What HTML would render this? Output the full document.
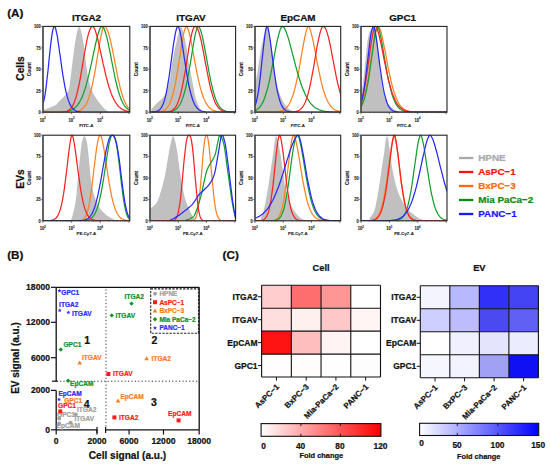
<!DOCTYPE html>
<html><head><meta charset="utf-8"><style>
html,body{margin:0;padding:0;background:#fff;}
svg{display:block;}
text{font-family:"Liberation Sans", sans-serif;}
</style></head><body>
<svg width="550" height="465" viewBox="0 0 550 465">
<rect width="550" height="465" fill="#fff"/>
<g id="panelA">
<defs>
<clipPath id="cp00"><rect x="43.00" y="25.40" width="86.80" height="86.80"/></clipPath>
<clipPath id="cp10"><rect x="150.00" y="25.40" width="85.60" height="86.80"/></clipPath>
<clipPath id="cp20"><rect x="255.00" y="25.40" width="85.70" height="86.80"/></clipPath>
<clipPath id="cp30"><rect x="361.00" y="25.40" width="86.00" height="86.80"/></clipPath>
<clipPath id="cp01"><rect x="43.00" y="134.20" width="86.80" height="86.60"/></clipPath>
<clipPath id="cp11"><rect x="150.00" y="134.20" width="85.60" height="86.60"/></clipPath>
<clipPath id="cp21"><rect x="255.00" y="134.20" width="85.70" height="86.60"/></clipPath>
<clipPath id="cp31"><rect x="361.00" y="134.20" width="86.00" height="86.60"/></clipPath>
</defs>
<g>
<g clip-path="url(#cp00)">
<path d="M43.0,112.2 L43.2,112.2 L43.2,110.0 L44.2,109.6 L45.5,109.2 L47.1,108.6 L48.9,107.9 L50.6,107.3 L52.3,106.6 L53.8,106.0 L55.0,105.4 L55.9,104.9 L56.5,104.4 L57.0,104.0 L57.3,103.5 L57.6,103.1 L58.0,102.6 L58.4,102.1 L58.9,101.5 L59.5,100.9 L60.3,100.2 L61.0,99.5 L61.8,98.7 L62.6,98.0 L63.3,97.2 L64.1,96.4 L64.7,95.7 L65.3,95.0 L65.9,94.4 L66.4,93.8 L66.9,93.2 L67.4,92.5 L67.8,91.8 L68.2,90.9 L68.6,89.9 L68.9,88.8 L69.2,87.5 L69.5,86.1 L69.7,84.7 L69.9,83.2 L70.1,81.6 L70.3,80.0 L70.5,78.3 L70.7,76.5 L71.0,74.7 L71.2,72.8 L71.4,70.8 L71.7,68.8 L71.9,66.8 L72.2,64.8 L72.4,62.8 L72.6,60.8 L72.9,58.8 L73.1,56.8 L73.4,54.8 L73.7,52.8 L73.9,50.9 L74.2,49.1 L74.4,47.3 L74.6,45.6 L74.9,44.0 L75.1,42.4 L75.4,40.9 L75.6,39.4 L75.9,38.0 L76.1,36.8 L76.3,35.6 L76.5,34.5 L76.7,33.6 L76.9,32.8 L77.1,32.0 L77.3,31.3 L77.4,30.7 L77.6,30.1 L77.8,29.5 L78.0,29.0 L78.2,28.5 L78.3,28.0 L78.5,27.6 L78.7,27.3 L78.9,27.0 L79.0,26.9 L79.2,26.8 L79.4,26.9 L79.5,27.0 L79.7,27.3 L79.9,27.6 L80.1,28.0 L80.2,28.5 L80.4,29.0 L80.6,29.5 L80.8,30.1 L81.0,30.7 L81.1,31.3 L81.3,32.0 L81.5,32.8 L81.7,33.6 L81.9,34.5 L82.1,35.6 L82.3,36.8 L82.6,38.0 L82.8,39.4 L83.1,40.9 L83.3,42.4 L83.6,44.0 L83.9,45.6 L84.1,47.3 L84.3,49.1 L84.6,51.0 L84.8,52.9 L85.1,54.9 L85.3,57.0 L85.5,59.0 L85.8,60.9 L86.0,62.8 L86.2,64.6 L86.4,66.4 L86.7,68.1 L86.9,69.8 L87.1,71.5 L87.3,73.1 L87.6,74.7 L87.9,76.3 L88.2,77.9 L88.5,79.4 L88.9,80.9 L89.2,82.4 L89.6,83.8 L90.0,85.3 L90.4,86.7 L90.9,88.0 L91.4,89.3 L92.0,90.6 L92.5,91.8 L93.1,93.0 L93.7,94.2 L94.4,95.4 L95.0,96.5 L95.7,97.6 L96.4,98.7 L97.1,99.8 L97.9,100.8 L98.7,101.9 L99.4,102.8 L100.2,103.8 L100.9,104.6 L101.5,105.4 L102.1,106.1 L102.5,106.7 L103.0,107.2 L103.4,107.7 L103.8,108.1 L104.2,108.5 L104.6,108.9 L105.0,109.3 L105.4,109.7 L105.9,110.0 L106.3,110.3 L106.7,110.6 L107.1,110.9 L107.5,111.1 L107.8,111.3 L108.0,111.5 L108.0,112.2 Z" fill="#c0c0c0"/>
<path d="M43.0,112.2 43.6,112.2 44.2,112.2 44.9,112.2 45.5,112.2 46.1,112.2 46.7,112.2 47.3,112.2 48.0,112.2 48.6,112.2 49.2,112.2 49.8,112.2 50.4,112.2 51.1,112.2 51.7,112.2 52.3,112.2 52.9,112.2 53.5,112.2 54.2,112.2 54.8,112.2 55.4,112.2 56.0,112.2 56.6,112.2 57.3,112.2 57.9,112.2 58.5,112.2 59.1,112.2 59.7,112.2 60.4,112.2 61.0,112.2 61.6,112.2 62.2,112.2 62.8,112.2 63.5,112.2 64.1,112.2 64.7,112.2 65.3,112.2 65.9,112.2 66.6,112.2 67.2,112.2 67.8,112.2 68.4,112.2 69.0,112.1 69.7,112.1 70.3,112.1 70.9,112.1 71.5,112.1 72.1,112.0 72.8,112.0 73.4,112.0 74.0,111.9 74.6,111.8 75.2,111.8 75.9,111.7 76.5,111.6 77.1,111.4 77.7,111.3 78.3,111.1 79.0,110.9 79.6,110.6 80.2,110.3 80.8,110.0 81.4,109.6 82.1,109.1 82.7,108.6 83.3,108.0 83.9,107.3 84.5,106.5 85.2,105.7 85.8,104.7 86.4,103.5 87.0,102.3 87.6,100.9 88.3,99.3 88.9,97.6 89.5,95.8 90.1,93.7 90.7,91.5 91.4,89.1 92.0,86.4 92.6,83.7 93.2,80.7 93.8,77.5 94.5,74.2 95.1,70.8 95.7,67.2 96.3,63.5 96.9,59.7 97.6,55.9 98.2,52.0 98.8,48.2 99.4,44.5 100.0,41.0 100.7,37.6 101.3,34.6 101.9,31.8 102.5,29.5 103.1,27.7 103.8,26.6 104.1,26.4 104.4,26.4 105.0,26.7 105.6,27.2 106.2,28.0 106.9,29.1 107.5,30.5 108.1,32.1 108.7,34.0 109.3,36.1 110.0,38.5 110.6,41.1 111.2,43.8 111.8,46.7 112.4,49.7 113.1,52.8 113.7,56.0 114.3,59.2 114.9,62.5 115.5,65.7 116.2,68.9 116.8,72.1 117.4,75.1 118.0,78.1 118.6,81.0 119.3,83.7 119.9,86.3 120.5,88.8 121.1,91.1 121.7,93.3 122.4,95.3 123.0,97.2 123.6,98.9 124.2,100.5 124.8,101.9 125.5,103.2 126.1,104.4 126.7,105.4 127.3,106.4 127.9,107.2 128.6,107.9 129.2,108.5 129.8,109.1" fill="none" stroke="#ff8020" stroke-width="1.25" stroke-linejoin="round"/>
<path d="M43.0,112.2 43.6,112.2 44.2,112.2 44.9,112.2 45.5,112.2 46.1,112.2 46.7,112.2 47.3,112.2 48.0,112.2 48.6,112.2 49.2,112.2 49.8,112.2 50.4,112.2 51.1,112.2 51.7,112.2 52.3,112.2 52.9,112.2 53.5,112.2 54.2,112.2 54.8,112.2 55.4,112.2 56.0,112.2 56.6,112.1 57.3,112.1 57.9,112.1 58.5,112.1 59.1,112.1 59.7,112.1 60.4,112.0 61.0,112.0 61.6,112.0 62.2,111.9 62.8,111.9 63.5,111.9 64.1,111.8 64.7,111.7 65.3,111.7 65.9,111.6 66.6,111.5 67.2,111.4 67.8,111.2 68.4,111.1 69.0,110.9 69.7,110.7 70.3,110.5 70.9,110.2 71.5,110.0 72.1,109.7 72.8,109.3 73.4,108.9 74.0,108.5 74.6,108.0 75.2,107.5 75.9,106.9 76.5,106.3 77.1,105.5 77.7,104.8 78.3,103.9 79.0,103.0 79.6,102.0 80.2,100.8 80.8,99.7 81.4,98.4 82.1,97.0 82.7,95.5 83.3,93.9 83.9,92.1 84.5,90.3 85.2,88.4 85.8,86.3 86.4,84.2 87.0,81.9 87.6,79.6 88.3,77.1 88.9,74.6 89.5,71.9 90.1,69.2 90.7,66.4 91.4,63.6 92.0,60.7 92.6,57.8 93.2,54.9 93.8,52.0 94.5,49.1 95.1,46.3 95.7,43.5 96.3,40.8 96.9,38.3 97.6,35.9 98.2,33.7 98.8,31.8 99.4,30.0 100.0,28.6 100.7,27.4 101.3,26.7 101.8,26.4 101.9,26.4 102.5,26.7 103.1,27.3 103.8,28.3 104.4,29.6 105.0,31.2 105.6,33.0 106.2,35.2 106.9,37.6 107.5,40.2 108.1,42.9 108.7,45.8 109.3,48.8 110.0,52.0 110.6,55.1 111.2,58.3 111.8,61.5 112.4,64.7 113.1,67.9 113.7,71.0 114.3,74.0 114.9,77.0 115.5,79.8 116.2,82.5 116.8,85.1 117.4,87.5 118.0,89.8 118.6,92.0 119.3,94.0 119.9,95.9 120.5,97.6 121.1,99.2 121.7,100.7 122.4,102.0 123.0,103.2 123.6,104.3 124.2,105.3 124.8,106.2 125.5,107.0 126.1,107.7 126.7,108.3 127.3,108.8 127.9,109.3 128.6,109.7 129.2,110.1 129.8,110.4" fill="none" stroke="#10a030" stroke-width="1.25" stroke-linejoin="round"/>
<path d="M43.0,112.2 43.6,112.2 44.2,112.2 44.9,112.2 45.5,112.2 46.1,112.2 46.7,112.2 47.3,112.2 48.0,112.2 48.6,112.2 49.2,112.2 49.8,112.2 50.4,112.2 51.1,112.2 51.7,112.2 52.3,112.2 52.9,112.2 53.5,112.2 54.2,112.2 54.8,112.2 55.4,112.2 56.0,112.2 56.6,112.2 57.3,112.2 57.9,112.2 58.5,112.2 59.1,112.2 59.7,112.2 60.4,112.1 61.0,112.1 61.6,112.1 62.2,112.1 62.8,112.0 63.5,112.0 64.1,111.9 64.7,111.8 65.3,111.7 65.9,111.5 66.6,111.3 67.2,111.1 67.8,110.8 68.4,110.5 69.0,110.1 69.7,109.6 70.3,109.0 70.9,108.4 71.5,107.6 72.1,106.7 72.8,105.6 73.4,104.4 74.0,103.0 74.6,101.4 75.2,99.7 75.9,97.7 76.5,95.6 77.1,93.2 77.7,90.7 78.3,87.9 79.0,85.0 79.6,81.9 80.2,78.6 80.8,75.1 81.4,71.6 82.1,67.9 82.7,64.2 83.3,60.5 83.9,56.8 84.5,53.2 85.2,49.6 85.8,46.2 86.4,43.0 87.0,40.0 87.6,37.2 88.3,34.7 88.9,32.5 89.5,30.7 90.1,29.1 90.7,28.0 91.4,27.1 92.0,26.6 92.6,26.4 92.8,26.4 93.2,26.6 93.8,27.4 94.5,28.6 95.1,30.1 95.7,31.9 96.3,33.9 96.9,36.1 97.6,38.5 98.2,41.1 98.8,43.8 99.4,46.5 100.0,49.3 100.7,52.2 101.3,55.1 101.9,58.0 102.5,60.8 103.1,63.7 103.8,66.4 104.4,69.2 105.0,71.8 105.6,74.4 106.2,76.9 106.9,79.3 107.5,81.7 108.1,83.9 108.7,86.0 109.3,88.0 110.0,89.9 110.6,91.7 111.2,93.4 111.8,94.9 112.4,96.4 113.1,97.8 113.7,99.1 114.3,100.3 114.9,101.4 115.5,102.4 116.2,103.4 116.8,104.2 117.4,105.0 118.0,105.8 118.6,106.4 119.3,107.0 119.9,107.6 120.5,108.1 121.1,108.5 121.7,108.9 122.4,109.3 123.0,109.6 123.6,109.9 124.2,110.2 124.8,110.4 125.5,110.7 126.1,110.8 126.7,111.0 127.3,111.2 127.9,111.3 128.6,111.4 129.2,111.5 129.8,111.6" fill="none" stroke="#ff2020" stroke-width="1.25" stroke-linejoin="round"/>
<path d="M43.0,104.2 43.6,101.8 44.2,99.0 44.9,95.6 45.5,91.6 46.1,87.1 46.7,82.0 47.3,76.5 48.0,70.7 48.6,64.6 49.2,58.5 49.8,52.4 50.4,46.6 51.1,41.3 51.7,36.6 52.3,32.7 52.9,29.7 53.5,27.6 54.2,26.6 54.6,26.4 54.8,26.5 55.4,27.8 56.0,30.0 56.6,32.8 57.3,36.2 57.9,40.1 58.5,44.2 59.1,48.5 59.7,53.0 60.4,57.5 61.0,61.9 61.6,66.3 62.2,70.6 62.8,74.6 63.5,78.5 64.1,82.1 64.7,85.5 65.3,88.6 65.9,91.4 66.6,94.0 67.2,96.4 67.8,98.5 68.4,100.4 69.0,102.1 69.7,103.6 70.3,104.9 70.9,106.0 71.5,107.0 72.1,107.8 72.8,108.5 73.4,109.2 74.0,109.7 74.6,110.1 75.2,110.5 75.9,110.8 76.5,111.1 77.1,111.3 77.7,111.5 78.3,111.6 79.0,111.7 79.6,111.8 80.2,111.9 80.8,112.0 81.4,112.0 82.1,112.1 82.7,112.1 83.3,112.1 83.9,112.1 84.5,112.1 85.2,112.2 85.8,112.2 86.4,112.2 87.0,112.2 87.6,112.2 88.3,112.2 88.9,112.2 89.5,112.2 90.1,112.2 90.7,112.2 91.4,112.2 92.0,112.2 92.6,112.2 93.2,112.2 93.8,112.2 94.5,112.2 95.1,112.2 95.7,112.2 96.3,112.2 96.9,112.2 97.6,112.2 98.2,112.2 98.8,112.2 99.4,112.2 100.0,112.2 100.7,112.2 101.3,112.2 101.9,112.2 102.5,112.2 103.1,112.2 103.8,112.2 104.4,112.2 105.0,112.2 105.6,112.2 106.2,112.2 106.9,112.2 107.5,112.2 108.1,112.2 108.7,112.2 109.3,112.2 110.0,112.2 110.6,112.2 111.2,112.2 111.8,112.2 112.4,112.2 113.1,112.2 113.7,112.2 114.3,112.2 114.9,112.2 115.5,112.2 116.2,112.2 116.8,112.2 117.4,112.2 118.0,112.2 118.6,112.2 119.3,112.2 119.9,112.2 120.5,112.2 121.1,112.2 121.7,112.2 122.4,112.2 123.0,112.2 123.6,112.2 124.2,112.2 124.8,112.2 125.5,112.2 126.1,112.2 126.7,112.2 127.3,112.2 127.9,112.2 128.6,112.2 129.2,112.2 129.8,112.2" fill="none" stroke="#2828ff" stroke-width="1.25" stroke-linejoin="round"/>
</g>
<rect x="43.00" y="26.40" width="86.80" height="85.80" fill="none" stroke="#222" stroke-width="1.1"/>
<line x1="43.00" y1="26.40" x2="43.00" y2="112.20" stroke="#555" stroke-width="1.4"/>
<line x1="41.00" y1="112.20" x2="43.00" y2="112.20" stroke="#444" stroke-width="0.6"/>
<text x="40.70" y="114.00" font-size="5" text-anchor="end" fill="#222" font-weight="bold" textLength="2.2" lengthAdjust="spacingAndGlyphs" stroke="#222" stroke-width="0.12">0</text>
<line x1="41.00" y1="90.75" x2="43.00" y2="90.75" stroke="#444" stroke-width="0.6"/>
<text x="40.70" y="92.55" font-size="5" text-anchor="end" fill="#222" font-weight="bold" textLength="4.4" lengthAdjust="spacingAndGlyphs" stroke="#222" stroke-width="0.12">25</text>
<line x1="41.00" y1="69.30" x2="43.00" y2="69.30" stroke="#444" stroke-width="0.6"/>
<text x="40.70" y="71.10" font-size="5" text-anchor="end" fill="#222" font-weight="bold" textLength="4.4" lengthAdjust="spacingAndGlyphs" stroke="#222" stroke-width="0.12">50</text>
<line x1="41.00" y1="47.85" x2="43.00" y2="47.85" stroke="#444" stroke-width="0.6"/>
<text x="40.70" y="49.65" font-size="5" text-anchor="end" fill="#222" font-weight="bold" textLength="4.4" lengthAdjust="spacingAndGlyphs" stroke="#222" stroke-width="0.12">75</text>
<line x1="41.00" y1="26.40" x2="43.00" y2="26.40" stroke="#444" stroke-width="0.6"/>
<text x="40.70" y="28.20" font-size="5" text-anchor="end" fill="#222" font-weight="bold" textLength="6.6" lengthAdjust="spacingAndGlyphs" stroke="#222" stroke-width="0.12">100</text>
<line x1="43.00" y1="112.20" x2="43.00" y2="114.20" stroke="#333" stroke-width="0.7"/>
<line x1="51.62" y1="112.20" x2="51.62" y2="113.40" stroke="#555" stroke-width="0.4"/>
<line x1="56.67" y1="112.20" x2="56.67" y2="113.40" stroke="#555" stroke-width="0.4"/>
<line x1="60.25" y1="112.20" x2="60.25" y2="113.40" stroke="#555" stroke-width="0.4"/>
<line x1="63.02" y1="112.20" x2="63.02" y2="113.40" stroke="#555" stroke-width="0.4"/>
<line x1="65.29" y1="112.20" x2="65.29" y2="113.40" stroke="#555" stroke-width="0.4"/>
<line x1="67.21" y1="112.20" x2="67.21" y2="113.40" stroke="#555" stroke-width="0.4"/>
<line x1="68.87" y1="112.20" x2="68.87" y2="113.40" stroke="#555" stroke-width="0.4"/>
<line x1="70.34" y1="112.20" x2="70.34" y2="113.40" stroke="#555" stroke-width="0.4"/>
<text x="42.80" y="121.50" font-size="4.6" text-anchor="middle" fill="#222" font-weight="bold" textLength="6" lengthAdjust="spacingAndGlyphs" stroke="#222" stroke-width="0.12">10<tspan font-size="3" dy="-2.4">2</tspan></text>
<line x1="71.65" y1="112.20" x2="71.65" y2="114.20" stroke="#333" stroke-width="0.7"/>
<line x1="80.27" y1="112.20" x2="80.27" y2="113.40" stroke="#555" stroke-width="0.4"/>
<line x1="85.31" y1="112.20" x2="85.31" y2="113.40" stroke="#555" stroke-width="0.4"/>
<line x1="88.89" y1="112.20" x2="88.89" y2="113.40" stroke="#555" stroke-width="0.4"/>
<line x1="91.67" y1="112.20" x2="91.67" y2="113.40" stroke="#555" stroke-width="0.4"/>
<line x1="93.94" y1="112.20" x2="93.94" y2="113.40" stroke="#555" stroke-width="0.4"/>
<line x1="95.86" y1="112.20" x2="95.86" y2="113.40" stroke="#555" stroke-width="0.4"/>
<line x1="97.52" y1="112.20" x2="97.52" y2="113.40" stroke="#555" stroke-width="0.4"/>
<line x1="98.98" y1="112.20" x2="98.98" y2="113.40" stroke="#555" stroke-width="0.4"/>
<text x="71.45" y="121.50" font-size="4.6" text-anchor="middle" fill="#222" font-weight="bold" textLength="6" lengthAdjust="spacingAndGlyphs" stroke="#222" stroke-width="0.12">10<tspan font-size="3" dy="-2.4">3</tspan></text>
<line x1="100.29" y1="112.20" x2="100.29" y2="114.20" stroke="#333" stroke-width="0.7"/>
<line x1="108.92" y1="112.20" x2="108.92" y2="113.40" stroke="#555" stroke-width="0.4"/>
<line x1="113.96" y1="112.20" x2="113.96" y2="113.40" stroke="#555" stroke-width="0.4"/>
<line x1="117.54" y1="112.20" x2="117.54" y2="113.40" stroke="#555" stroke-width="0.4"/>
<line x1="120.32" y1="112.20" x2="120.32" y2="113.40" stroke="#555" stroke-width="0.4"/>
<line x1="122.59" y1="112.20" x2="122.59" y2="113.40" stroke="#555" stroke-width="0.4"/>
<line x1="124.50" y1="112.20" x2="124.50" y2="113.40" stroke="#555" stroke-width="0.4"/>
<line x1="126.16" y1="112.20" x2="126.16" y2="113.40" stroke="#555" stroke-width="0.4"/>
<line x1="127.63" y1="112.20" x2="127.63" y2="113.40" stroke="#555" stroke-width="0.4"/>
<text x="100.09" y="121.50" font-size="4.6" text-anchor="middle" fill="#222" font-weight="bold" textLength="6" lengthAdjust="spacingAndGlyphs" stroke="#222" stroke-width="0.12">10<tspan font-size="3" dy="-2.4">4</tspan></text>
<line x1="128.94" y1="112.20" x2="128.94" y2="114.20" stroke="#333" stroke-width="0.7"/>
<text x="86.40" y="126.70" font-size="4.3" text-anchor="middle" fill="#222" stroke="#222" stroke-width="0.12" font-weight="bold">FITC-A</text>
<text transform="translate(31.40,69.30) rotate(-90)" font-size="4.9" text-anchor="middle" fill="#222" stroke="#222" stroke-width="0.15" font-weight="bold">Count</text>
</g>
<g>
<g clip-path="url(#cp10)">
<path d="M150.0,112.2 L151.3,112.2 L151.3,109.2 L151.7,108.7 L152.2,108.2 L152.9,107.5 L153.5,106.7 L154.3,105.9 L155.1,105.1 L155.9,104.2 L156.7,103.3 L157.6,102.5 L158.6,101.7 L159.6,100.8 L160.6,100.0 L161.7,99.0 L162.7,98.0 L163.6,96.9 L164.5,95.6 L165.2,94.2 L165.9,92.8 L166.6,91.2 L167.2,89.6 L167.8,87.8 L168.3,86.0 L168.8,84.1 L169.3,82.1 L169.8,79.9 L170.2,77.6 L170.5,75.2 L170.8,72.7 L171.1,70.2 L171.5,67.7 L171.8,65.2 L172.2,62.7 L172.7,60.3 L173.1,57.8 L173.6,55.3 L174.0,52.8 L174.5,50.4 L175.0,48.0 L175.6,45.6 L176.1,43.4 L176.7,40.9 L177.2,38.3 L177.8,35.5 L178.5,32.9 L179.1,30.5 L179.7,28.6 L180.3,27.4 L180.9,26.9 L181.6,27.4 L182.2,28.6 L182.8,30.5 L183.5,32.9 L184.1,35.5 L184.7,38.3 L185.3,40.9 L185.8,43.4 L186.2,45.6 L186.6,48.0 L187.0,50.4 L187.3,52.8 L187.6,55.3 L187.9,57.8 L188.3,60.3 L188.7,62.7 L189.1,65.2 L189.6,67.6 L190.1,70.1 L190.6,72.6 L191.1,75.1 L191.6,77.5 L192.1,79.8 L192.5,82.1 L192.9,84.2 L193.3,86.3 L193.7,88.4 L194.0,90.4 L194.3,92.3 L194.7,94.2 L195.0,95.9 L195.4,97.5 L195.9,99.1 L196.4,100.5 L196.9,101.9 L197.4,103.1 L197.9,104.3 L198.4,105.3 L198.9,106.3 L199.3,107.2 L199.7,108.0 L200.2,108.7 L200.6,109.3 L201.0,109.8 L201.4,110.2 L201.7,110.5 L202.0,110.8 L202.2,111.1 L202.2,112.2 Z" fill="#c0c0c0"/>
<path d="M150.0,112.2 150.6,112.2 151.2,112.2 151.8,112.2 152.4,112.2 153.1,112.2 153.7,112.2 154.3,112.1 154.9,112.1 155.5,112.1 156.1,112.1 156.7,112.1 157.3,112.0 157.9,112.0 158.6,111.9 159.2,111.8 159.8,111.8 160.4,111.7 161.0,111.5 161.6,111.4 162.2,111.2 162.8,111.0 163.5,110.7 164.1,110.4 164.7,110.0 165.3,109.6 165.9,109.0 166.5,108.4 167.1,107.7 167.7,106.9 168.3,106.0 169.0,105.0 169.6,103.8 170.2,102.4 170.8,100.9 171.4,99.2 172.0,97.3 172.6,95.2 173.2,92.9 173.8,90.4 174.5,87.7 175.1,84.8 175.7,81.6 176.3,78.3 176.9,74.8 177.5,71.2 178.1,67.4 178.7,63.5 179.3,59.5 180.0,55.5 180.6,51.6 181.2,47.7 181.8,43.9 182.4,40.3 183.0,37.0 183.6,34.0 184.2,31.4 184.9,29.2 185.5,27.6 186.1,26.6 186.5,26.4 186.7,26.5 187.3,27.3 187.9,28.7 188.5,30.5 189.1,32.7 189.7,35.2 190.4,37.9 191.0,40.9 191.6,44.0 192.2,47.2 192.8,50.5 193.4,53.9 194.0,57.2 194.6,60.6 195.2,63.9 195.9,67.1 196.5,70.3 197.1,73.4 197.7,76.3 198.3,79.2 198.9,81.8 199.5,84.4 200.1,86.8 200.7,89.1 201.4,91.2 202.0,93.2 202.6,95.1 203.2,96.8 203.8,98.4 204.4,99.8 205.0,101.1 205.6,102.3 206.3,103.4 206.9,104.4 207.5,105.3 208.1,106.2 208.7,106.9 209.3,107.5 209.9,108.1 210.5,108.6 211.1,109.1 211.8,109.5 212.4,109.9 213.0,110.2 213.6,110.5 214.2,110.7 214.8,110.9 215.4,111.1 216.0,111.3 216.6,111.4 217.3,111.5 217.9,111.6 218.5,111.7 219.1,111.8 219.7,111.9 220.3,111.9 220.9,112.0 221.5,112.0 222.1,112.0 222.8,112.1 223.4,112.1 224.0,112.1 224.6,112.1 225.2,112.1 225.8,112.1 226.4,112.2 227.0,112.2 227.7,112.2 228.3,112.2 228.9,112.2 229.5,112.2 230.1,112.2 230.7,112.2 231.3,112.2 231.9,112.2 232.5,112.2 233.2,112.2 233.8,112.2 234.4,112.2 235.0,112.2 235.6,112.2" fill="none" stroke="#ff8020" stroke-width="1.25" stroke-linejoin="round"/>
<path d="M150.0,112.2 150.6,112.2 151.2,112.2 151.8,112.2 152.4,112.2 153.1,112.2 153.7,112.2 154.3,112.2 154.9,112.2 155.5,112.2 156.1,112.2 156.7,112.2 157.3,112.2 157.9,112.2 158.6,112.2 159.2,112.2 159.8,112.2 160.4,112.2 161.0,112.2 161.6,112.2 162.2,112.2 162.8,112.1 163.5,112.1 164.1,112.1 164.7,112.1 165.3,112.1 165.9,112.0 166.5,112.0 167.1,112.0 167.7,111.9 168.3,111.9 169.0,111.8 169.6,111.7 170.2,111.6 170.8,111.5 171.4,111.3 172.0,111.2 172.6,111.0 173.2,110.8 173.8,110.5 174.5,110.2 175.1,109.8 175.7,109.4 176.3,108.9 176.9,108.4 177.5,107.8 178.1,107.1 178.7,106.3 179.3,105.3 180.0,104.3 180.6,103.2 181.2,101.9 181.8,100.5 182.4,98.9 183.0,97.2 183.6,95.3 184.2,93.2 184.9,91.0 185.5,88.6 186.1,86.0 186.7,83.2 187.3,80.2 187.9,77.1 188.5,73.8 189.1,70.4 189.7,66.8 190.4,63.2 191.0,59.4 191.6,55.7 192.2,51.9 192.8,48.2 193.4,44.5 194.0,41.0 194.6,37.7 195.2,34.6 195.9,31.9 196.5,29.6 197.1,27.8 197.7,26.7 198.1,26.4 198.3,26.4 198.9,26.9 199.5,27.8 200.1,29.1 200.7,30.8 201.4,32.8 202.0,35.1 202.6,37.7 203.2,40.5 203.8,43.5 204.4,46.6 205.0,49.9 205.6,53.3 206.3,56.7 206.9,60.1 207.5,63.6 208.1,66.9 208.7,70.3 209.3,73.5 209.9,76.6 210.5,79.6 211.1,82.5 211.8,85.2 212.4,87.8 213.0,90.2 213.6,92.5 214.2,94.5 214.8,96.5 215.4,98.2 216.0,99.9 216.6,101.3 217.3,102.7 217.9,103.9 218.5,105.0 219.1,105.9 219.7,106.8 220.3,107.5 220.9,108.2 221.5,108.8 222.1,109.3 222.8,109.7 223.4,110.1 224.0,110.4 224.6,110.7 225.2,111.0 225.8,111.2 226.4,111.4 227.0,111.5 227.7,111.6 228.3,111.7 228.9,111.8 229.5,111.9 230.1,111.9 230.7,112.0 231.3,112.0 231.9,112.1 232.5,112.1 233.2,112.1 233.8,112.1 234.4,112.1 235.0,112.2 235.6,112.2" fill="none" stroke="#10a030" stroke-width="1.25" stroke-linejoin="round"/>
<path d="M150.0,112.2 150.6,112.2 151.2,112.2 151.8,112.2 152.4,112.2 153.1,112.2 153.7,112.2 154.3,112.2 154.9,112.2 155.5,112.2 156.1,112.2 156.7,112.2 157.3,112.2 157.9,112.2 158.6,112.2 159.2,112.2 159.8,112.2 160.4,112.2 161.0,112.2 161.6,112.2 162.2,112.2 162.8,112.2 163.5,112.1 164.1,112.1 164.7,112.1 165.3,112.1 165.9,112.0 166.5,112.0 167.1,111.9 167.7,111.8 168.3,111.7 169.0,111.6 169.6,111.5 170.2,111.3 170.8,111.1 171.4,110.8 172.0,110.5 172.6,110.1 173.2,109.6 173.8,109.1 174.5,108.5 175.1,107.7 175.7,106.9 176.3,105.9 176.9,104.7 177.5,103.5 178.1,102.0 178.7,100.4 179.3,98.5 180.0,96.5 180.6,94.3 181.2,91.9 181.8,89.2 182.4,86.4 183.0,83.3 183.6,80.1 184.2,76.7 184.9,73.2 185.5,69.5 186.1,65.7 186.7,61.9 187.3,58.1 187.9,54.3 188.5,50.5 189.1,46.9 189.7,43.4 190.4,40.1 191.0,37.1 191.6,34.3 192.2,32.0 192.8,30.0 193.4,28.4 194.0,27.3 194.6,26.6 195.2,26.4 195.2,26.4 195.9,26.6 196.5,27.1 197.1,27.9 197.7,29.0 198.3,30.5 198.9,32.2 199.5,34.2 200.1,36.5 200.7,39.0 201.4,41.7 202.0,44.5 202.6,47.6 203.2,50.7 203.8,53.9 204.4,57.2 205.0,60.6 205.6,63.9 206.3,67.2 206.9,70.5 207.5,73.6 208.1,76.7 208.7,79.7 209.3,82.6 209.9,85.3 210.5,87.9 211.1,90.3 211.8,92.5 212.4,94.7 213.0,96.6 213.6,98.4 214.2,100.0 214.8,101.5 215.4,102.9 216.0,104.1 216.6,105.2 217.3,106.1 217.9,107.0 218.5,107.8 219.1,108.4 219.7,109.0 220.3,109.5 220.9,109.9 221.5,110.3 222.1,110.6 222.8,110.9 223.4,111.1 224.0,111.3 224.6,111.5 225.2,111.6 225.8,111.7 226.4,111.8 227.0,111.9 227.7,112.0 228.3,112.0 228.9,112.0 229.5,112.1 230.1,112.1 230.7,112.1 231.3,112.1 231.9,112.2 232.5,112.2 233.2,112.2 233.8,112.2 234.4,112.2 235.0,112.2 235.6,112.2" fill="none" stroke="#ff2020" stroke-width="1.25" stroke-linejoin="round"/>
<path d="M150.0,112.2 150.6,112.2 151.2,112.1 151.8,112.1 152.4,112.1 153.1,112.1 153.7,112.0 154.3,111.9 154.9,111.8 155.5,111.7 156.1,111.6 156.7,111.4 157.3,111.2 157.9,110.9 158.6,110.5 159.2,110.1 159.8,109.5 160.4,108.9 161.0,108.1 161.6,107.2 162.2,106.0 162.8,104.7 163.5,103.2 164.1,101.4 164.7,99.4 165.3,97.1 165.9,94.6 166.5,91.7 167.1,88.6 167.7,85.1 168.3,81.4 169.0,77.4 169.6,73.2 170.2,68.9 170.8,64.4 171.4,59.8 172.0,55.2 172.6,50.7 173.2,46.3 173.8,42.1 174.5,38.3 175.1,34.9 175.7,31.9 176.3,29.5 176.9,27.8 177.5,26.7 178.0,26.4 178.1,26.4 178.7,27.3 179.3,29.1 180.0,31.5 180.6,34.4 181.2,37.7 181.8,41.3 182.4,45.2 183.0,49.1 183.6,53.2 184.2,57.3 184.9,61.4 185.5,65.4 186.1,69.4 186.7,73.1 187.3,76.7 187.9,80.2 188.5,83.4 189.1,86.4 189.7,89.2 190.4,91.8 191.0,94.1 191.6,96.3 192.2,98.2 192.8,100.0 193.4,101.6 194.0,103.0 194.6,104.3 195.2,105.4 195.9,106.4 196.5,107.2 197.1,108.0 197.7,108.6 198.3,109.2 198.9,109.7 199.5,110.1 200.1,110.4 200.7,110.7 201.4,111.0 202.0,111.2 202.6,111.4 203.2,111.5 203.8,111.6 204.4,111.7 205.0,111.8 205.6,111.9 206.3,112.0 206.9,112.0 207.5,112.0 208.1,112.1 208.7,112.1 209.3,112.1 209.9,112.1 210.5,112.2 211.1,112.2 211.8,112.2 212.4,112.2 213.0,112.2 213.6,112.2 214.2,112.2 214.8,112.2 215.4,112.2 216.0,112.2 216.6,112.2 217.3,112.2 217.9,112.2 218.5,112.2 219.1,112.2 219.7,112.2 220.3,112.2 220.9,112.2 221.5,112.2 222.1,112.2 222.8,112.2 223.4,112.2 224.0,112.2 224.6,112.2 225.2,112.2 225.8,112.2 226.4,112.2 227.0,112.2 227.7,112.2 228.3,112.2 228.9,112.2 229.5,112.2 230.1,112.2 230.7,112.2 231.3,112.2 231.9,112.2 232.5,112.2 233.2,112.2 233.8,112.2 234.4,112.2 235.0,112.2 235.6,112.2" fill="none" stroke="#2828ff" stroke-width="1.25" stroke-linejoin="round"/>
</g>
<rect x="150.00" y="26.40" width="85.60" height="85.80" fill="none" stroke="#222" stroke-width="1.1"/>
<line x1="150.00" y1="26.40" x2="150.00" y2="112.20" stroke="#555" stroke-width="1.4"/>
<line x1="148.00" y1="112.20" x2="150.00" y2="112.20" stroke="#444" stroke-width="0.6"/>
<text x="147.70" y="114.00" font-size="5" text-anchor="end" fill="#222" font-weight="bold" textLength="2.2" lengthAdjust="spacingAndGlyphs" stroke="#222" stroke-width="0.12">0</text>
<line x1="148.00" y1="90.75" x2="150.00" y2="90.75" stroke="#444" stroke-width="0.6"/>
<text x="147.70" y="92.55" font-size="5" text-anchor="end" fill="#222" font-weight="bold" textLength="4.4" lengthAdjust="spacingAndGlyphs" stroke="#222" stroke-width="0.12">25</text>
<line x1="148.00" y1="69.30" x2="150.00" y2="69.30" stroke="#444" stroke-width="0.6"/>
<text x="147.70" y="71.10" font-size="5" text-anchor="end" fill="#222" font-weight="bold" textLength="4.4" lengthAdjust="spacingAndGlyphs" stroke="#222" stroke-width="0.12">50</text>
<line x1="148.00" y1="47.85" x2="150.00" y2="47.85" stroke="#444" stroke-width="0.6"/>
<text x="147.70" y="49.65" font-size="5" text-anchor="end" fill="#222" font-weight="bold" textLength="4.4" lengthAdjust="spacingAndGlyphs" stroke="#222" stroke-width="0.12">75</text>
<line x1="148.00" y1="26.40" x2="150.00" y2="26.40" stroke="#444" stroke-width="0.6"/>
<text x="147.70" y="28.20" font-size="5" text-anchor="end" fill="#222" font-weight="bold" textLength="6.6" lengthAdjust="spacingAndGlyphs" stroke="#222" stroke-width="0.12">100</text>
<line x1="150.00" y1="112.20" x2="150.00" y2="114.20" stroke="#333" stroke-width="0.7"/>
<line x1="158.50" y1="112.20" x2="158.50" y2="113.40" stroke="#555" stroke-width="0.4"/>
<line x1="163.48" y1="112.20" x2="163.48" y2="113.40" stroke="#555" stroke-width="0.4"/>
<line x1="167.01" y1="112.20" x2="167.01" y2="113.40" stroke="#555" stroke-width="0.4"/>
<line x1="169.75" y1="112.20" x2="169.75" y2="113.40" stroke="#555" stroke-width="0.4"/>
<line x1="171.98" y1="112.20" x2="171.98" y2="113.40" stroke="#555" stroke-width="0.4"/>
<line x1="173.87" y1="112.20" x2="173.87" y2="113.40" stroke="#555" stroke-width="0.4"/>
<line x1="175.51" y1="112.20" x2="175.51" y2="113.40" stroke="#555" stroke-width="0.4"/>
<line x1="176.96" y1="112.20" x2="176.96" y2="113.40" stroke="#555" stroke-width="0.4"/>
<text x="149.80" y="121.50" font-size="4.6" text-anchor="middle" fill="#222" font-weight="bold" textLength="6" lengthAdjust="spacingAndGlyphs" stroke="#222" stroke-width="0.12">10<tspan font-size="3" dy="-2.4">2</tspan></text>
<line x1="178.25" y1="112.20" x2="178.25" y2="114.20" stroke="#333" stroke-width="0.7"/>
<line x1="186.76" y1="112.20" x2="186.76" y2="113.40" stroke="#555" stroke-width="0.4"/>
<line x1="191.73" y1="112.20" x2="191.73" y2="113.40" stroke="#555" stroke-width="0.4"/>
<line x1="195.26" y1="112.20" x2="195.26" y2="113.40" stroke="#555" stroke-width="0.4"/>
<line x1="198.00" y1="112.20" x2="198.00" y2="113.40" stroke="#555" stroke-width="0.4"/>
<line x1="200.23" y1="112.20" x2="200.23" y2="113.40" stroke="#555" stroke-width="0.4"/>
<line x1="202.13" y1="112.20" x2="202.13" y2="113.40" stroke="#555" stroke-width="0.4"/>
<line x1="203.76" y1="112.20" x2="203.76" y2="113.40" stroke="#555" stroke-width="0.4"/>
<line x1="205.21" y1="112.20" x2="205.21" y2="113.40" stroke="#555" stroke-width="0.4"/>
<text x="178.05" y="121.50" font-size="4.6" text-anchor="middle" fill="#222" font-weight="bold" textLength="6" lengthAdjust="spacingAndGlyphs" stroke="#222" stroke-width="0.12">10<tspan font-size="3" dy="-2.4">3</tspan></text>
<line x1="206.50" y1="112.20" x2="206.50" y2="114.20" stroke="#333" stroke-width="0.7"/>
<line x1="215.01" y1="112.20" x2="215.01" y2="113.40" stroke="#555" stroke-width="0.4"/>
<line x1="219.98" y1="112.20" x2="219.98" y2="113.40" stroke="#555" stroke-width="0.4"/>
<line x1="223.51" y1="112.20" x2="223.51" y2="113.40" stroke="#555" stroke-width="0.4"/>
<line x1="226.25" y1="112.20" x2="226.25" y2="113.40" stroke="#555" stroke-width="0.4"/>
<line x1="228.49" y1="112.20" x2="228.49" y2="113.40" stroke="#555" stroke-width="0.4"/>
<line x1="230.38" y1="112.20" x2="230.38" y2="113.40" stroke="#555" stroke-width="0.4"/>
<line x1="232.01" y1="112.20" x2="232.01" y2="113.40" stroke="#555" stroke-width="0.4"/>
<line x1="233.46" y1="112.20" x2="233.46" y2="113.40" stroke="#555" stroke-width="0.4"/>
<text x="206.30" y="121.50" font-size="4.6" text-anchor="middle" fill="#222" font-weight="bold" textLength="6" lengthAdjust="spacingAndGlyphs" stroke="#222" stroke-width="0.12">10<tspan font-size="3" dy="-2.4">4</tspan></text>
<line x1="234.75" y1="112.20" x2="234.75" y2="114.20" stroke="#333" stroke-width="0.7"/>
<text x="192.80" y="126.70" font-size="4.3" text-anchor="middle" fill="#222" stroke="#222" stroke-width="0.12" font-weight="bold">FITC-A</text>
<text transform="translate(138.40,69.30) rotate(-90)" font-size="4.9" text-anchor="middle" fill="#222" stroke="#222" stroke-width="0.15" font-weight="bold">Count</text>
</g>
<g>
<g clip-path="url(#cp20)">
<path d="M255.0,112.2 L255.0,112.2 L255.0,82.1 L255.0,82.0 L255.1,82.1 L255.2,82.2 L255.3,82.2 L255.4,82.1 L255.5,81.7 L255.7,81.1 L255.9,80.1 L256.2,78.7 L256.5,76.9 L256.9,74.7 L257.3,72.4 L257.7,69.9 L258.1,67.4 L258.5,65.0 L258.8,62.7 L259.2,60.5 L259.5,58.4 L259.8,56.2 L260.2,54.1 L260.5,51.9 L260.9,49.7 L261.3,47.5 L261.7,45.3 L262.3,42.9 L262.9,40.1 L263.5,37.3 L264.2,34.5 L264.8,31.9 L265.5,29.6 L266.1,27.9 L266.6,26.9 L267.0,26.6 L267.4,27.0 L267.8,27.8 L268.2,29.0 L268.5,30.5 L268.8,32.2 L269.1,33.9 L269.5,35.6 L269.9,37.4 L270.2,39.3 L270.6,41.4 L271.0,43.7 L271.4,46.0 L271.7,48.3 L272.1,50.7 L272.4,53.0 L272.7,55.4 L272.9,57.9 L273.1,60.4 L273.4,62.9 L273.6,65.5 L273.8,67.9 L274.0,70.2 L274.3,72.4 L274.6,74.4 L275.0,76.2 L275.3,78.0 L275.7,79.6 L276.0,81.2 L276.4,82.8 L276.8,84.4 L277.2,85.9 L277.6,87.5 L278.1,89.0 L278.5,90.5 L279.0,92.0 L279.5,93.4 L280.0,94.8 L280.5,96.2 L281.1,97.5 L281.7,98.9 L282.4,100.2 L283.1,101.6 L283.9,102.9 L284.6,104.1 L285.4,105.3 L286.2,106.3 L286.9,107.2 L287.7,108.0 L288.5,108.7 L289.3,109.3 L290.2,109.8 L291.0,110.2 L291.7,110.5 L292.3,110.8 L292.7,111.1 L292.7,112.2 Z" fill="#c0c0c0"/>
<path d="M255.0,112.2 255.6,112.2 256.2,112.2 256.8,112.2 257.4,112.2 258.1,112.2 258.7,112.2 259.3,112.2 259.9,112.2 260.5,112.2 261.1,112.2 261.7,112.2 262.3,112.2 263.0,112.2 263.6,112.2 264.2,112.2 264.8,112.2 265.4,112.2 266.0,112.2 266.6,112.2 267.2,112.2 267.9,112.2 268.5,112.2 269.1,112.2 269.7,112.2 270.3,112.2 270.9,112.1 271.5,112.1 272.1,112.1 272.8,112.1 273.4,112.1 274.0,112.0 274.6,112.0 275.2,112.0 275.8,111.9 276.4,111.9 277.0,111.8 277.6,111.7 278.3,111.6 278.9,111.5 279.5,111.4 280.1,111.3 280.7,111.1 281.3,110.9 281.9,110.7 282.5,110.4 283.2,110.1 283.8,109.8 284.4,109.4 285.0,109.0 285.6,108.5 286.2,107.9 286.8,107.3 287.4,106.5 288.1,105.7 288.7,104.8 289.3,103.8 289.9,102.7 290.5,101.5 291.1,100.1 291.7,98.6 292.3,96.9 293.0,95.2 293.6,93.2 294.2,91.1 294.8,88.9 295.4,86.5 296.0,83.9 296.6,81.2 297.2,78.3 297.9,75.3 298.5,72.1 299.1,68.9 299.7,65.5 300.3,62.1 300.9,58.6 301.5,55.0 302.1,51.5 302.7,48.0 303.4,44.6 304.0,41.3 304.6,38.2 305.2,35.3 305.8,32.7 306.4,30.4 307.0,28.5 307.6,27.1 308.3,26.4 308.4,26.4 308.9,26.8 309.5,27.8 310.1,29.2 310.7,31.1 311.3,33.3 311.9,35.8 312.5,38.4 313.2,41.3 313.8,44.3 314.4,47.5 315.0,50.7 315.6,53.9 316.2,57.2 316.8,60.4 317.4,63.6 318.1,66.8 318.7,69.8 319.3,72.8 319.9,75.7 320.5,78.5 321.1,81.1 321.7,83.7 322.3,86.0 322.9,88.3 323.6,90.4 324.2,92.4 324.8,94.3 325.4,96.0 326.0,97.6 326.6,99.1 327.2,100.4 327.8,101.7 328.5,102.8 329.1,103.8 329.7,104.8 330.3,105.6 330.9,106.4 331.5,107.1 332.1,107.7 332.7,108.2 333.4,108.7 334.0,109.2 334.6,109.6 335.2,109.9 335.8,110.2 336.4,110.5 337.0,110.7 337.6,110.9 338.3,111.1 338.9,111.3 339.5,111.4 340.1,111.5 340.7,111.6" fill="none" stroke="#ff8020" stroke-width="1.25" stroke-linejoin="round"/>
<path d="M255.0,110.7 255.6,110.4 256.2,110.1 256.8,109.7 257.4,109.3 258.1,108.8 258.7,108.2 259.3,107.6 259.9,106.9 260.5,106.1 261.1,105.2 261.7,104.2 262.3,103.1 263.0,101.9 263.6,100.5 264.2,99.1 264.8,97.5 265.4,95.7 266.0,93.8 266.6,91.8 267.2,89.6 267.9,87.2 268.5,84.7 269.1,82.1 269.7,79.4 270.3,76.5 270.9,73.5 271.5,70.4 272.1,67.2 272.8,64.0 273.4,60.8 274.0,57.5 274.6,54.2 275.2,51.0 275.8,47.8 276.4,44.7 277.0,41.8 277.6,39.0 278.3,36.4 278.9,34.0 279.5,31.9 280.1,30.1 280.7,28.6 281.3,27.5 281.9,26.7 282.5,26.4 282.6,26.4 283.2,26.6 283.8,27.2 284.4,28.1 285.0,29.2 285.6,30.6 286.2,32.1 286.8,33.7 287.4,35.6 288.1,37.5 288.7,39.5 289.3,41.7 289.9,43.8 290.5,46.1 291.1,48.4 291.7,50.7 292.3,53.1 293.0,55.5 293.6,57.8 294.2,60.2 294.8,62.5 295.4,64.9 296.0,67.1 296.6,69.4 297.2,71.6 297.9,73.7 298.5,75.8 299.1,77.8 299.7,79.8 300.3,81.7 300.9,83.5 301.5,85.2 302.1,86.9 302.7,88.5 303.4,90.1 304.0,91.5 304.6,92.9 305.2,94.3 305.8,95.5 306.4,96.7 307.0,97.9 307.6,98.9 308.3,99.9 308.9,100.9 309.5,101.7 310.1,102.6 310.7,103.3 311.3,104.1 311.9,104.7 312.5,105.4 313.2,105.9 313.8,106.5 314.4,107.0 315.0,107.4 315.6,107.9 316.2,108.3 316.8,108.6 317.4,108.9 318.1,109.3 318.7,109.5 319.3,109.8 319.9,110.0 320.5,110.2 321.1,110.4 321.7,110.6 322.3,110.8 322.9,110.9 323.6,111.0 324.2,111.2 324.8,111.3 325.4,111.4 326.0,111.5 326.6,111.5 327.2,111.6 327.8,111.7 328.5,111.7 329.1,111.8 329.7,111.8 330.3,111.9 330.9,111.9 331.5,111.9 332.1,112.0 332.7,112.0 333.4,112.0 334.0,112.0 334.6,112.1 335.2,112.1 335.8,112.1 336.4,112.1 337.0,112.1 337.6,112.1 338.3,112.1 338.9,112.1 339.5,112.2 340.1,112.2 340.7,112.2" fill="none" stroke="#10a030" stroke-width="1.25" stroke-linejoin="round"/>
<path d="M255.0,112.2 255.6,112.2 256.2,112.2 256.8,112.2 257.4,112.2 258.1,112.2 258.7,112.2 259.3,112.2 259.9,112.2 260.5,112.2 261.1,112.2 261.7,112.2 262.3,112.2 263.0,112.2 263.6,112.2 264.2,112.2 264.8,112.2 265.4,112.2 266.0,112.2 266.6,112.2 267.2,112.2 267.9,112.2 268.5,112.2 269.1,112.2 269.7,112.2 270.3,112.2 270.9,112.2 271.5,112.2 272.1,112.2 272.8,112.2 273.4,112.2 274.0,112.2 274.6,112.2 275.2,112.2 275.8,112.2 276.4,112.2 277.0,112.2 277.6,112.2 278.3,112.2 278.9,112.2 279.5,112.2 280.1,112.2 280.7,112.2 281.3,112.2 281.9,112.2 282.5,112.2 283.2,112.2 283.8,112.2 284.4,112.2 285.0,112.2 285.6,112.2 286.2,112.2 286.8,112.2 287.4,112.2 288.1,112.2 288.7,112.2 289.3,112.1 289.9,112.1 290.5,112.1 291.1,112.1 291.7,112.1 292.3,112.0 293.0,112.0 293.6,111.9 294.2,111.8 294.8,111.7 295.4,111.6 296.0,111.5 296.6,111.3 297.2,111.1 297.9,110.9 298.5,110.6 299.1,110.3 299.7,109.9 300.3,109.4 300.9,108.9 301.5,108.3 302.1,107.6 302.7,106.8 303.4,105.8 304.0,104.8 304.6,103.6 305.2,102.3 305.8,100.8 306.4,99.1 307.0,97.3 307.6,95.3 308.3,93.1 308.9,90.7 309.5,88.2 310.1,85.5 310.7,82.6 311.3,79.5 311.9,76.3 312.5,73.0 313.2,69.6 313.8,66.1 314.4,62.5 315.0,58.9 315.6,55.3 316.2,51.7 316.8,48.2 317.4,44.9 318.1,41.7 318.7,38.7 319.3,36.0 319.9,33.5 320.5,31.4 321.1,29.6 321.7,28.1 322.3,27.1 322.9,26.5 323.4,26.4 323.6,26.4 324.2,26.7 324.8,27.3 325.4,28.2 326.0,29.5 326.6,31.1 327.2,32.9 327.8,35.1 328.5,37.4 329.1,40.0 329.7,42.8 330.3,45.7 330.9,48.7 331.5,51.9 332.1,55.1 332.7,58.3 333.4,61.6 334.0,64.9 334.6,68.1 335.2,71.2 335.8,74.3 336.4,77.3 337.0,80.1 337.6,82.9 338.3,85.5 338.9,88.0 339.5,90.3 340.1,92.5 340.7,94.5" fill="none" stroke="#ff2020" stroke-width="1.25" stroke-linejoin="round"/>
<path d="M255.0,105.9 255.6,104.1 256.2,102.0 256.8,99.5 257.4,96.6 258.1,93.2 258.7,89.3 259.3,84.9 259.9,80.1 260.5,74.9 261.1,69.3 261.7,63.5 262.3,57.6 263.0,51.7 263.6,46.0 264.2,40.7 264.8,36.0 265.4,32.0 266.0,28.9 266.6,27.0 267.2,26.4 267.2,26.4 267.9,27.6 268.5,30.0 269.1,33.1 269.7,36.9 270.3,41.1 270.9,45.7 271.5,50.5 272.1,55.3 272.8,60.2 273.4,65.0 274.0,69.7 274.6,74.1 275.2,78.3 275.8,82.2 276.4,85.9 277.0,89.2 277.6,92.3 278.3,95.0 278.9,97.4 279.5,99.6 280.1,101.5 280.7,103.2 281.3,104.7 281.9,105.9 282.5,107.0 283.2,107.9 283.8,108.7 284.4,109.3 285.0,109.9 285.6,110.3 286.2,110.7 286.8,111.0 287.4,111.2 288.1,111.4 288.7,111.6 289.3,111.7 289.9,111.8 290.5,111.9 291.1,112.0 291.7,112.0 292.3,112.1 293.0,112.1 293.6,112.1 294.2,112.1 294.8,112.2 295.4,112.2 296.0,112.2 296.6,112.2 297.2,112.2 297.9,112.2 298.5,112.2 299.1,112.2 299.7,112.2 300.3,112.2 300.9,112.2 301.5,112.2 302.1,112.2 302.7,112.2 303.4,112.2 304.0,112.2 304.6,112.2 305.2,112.2 305.8,112.2 306.4,112.2 307.0,112.2 307.6,112.2 308.3,112.2 308.9,112.2 309.5,112.2 310.1,112.2 310.7,112.2 311.3,112.2 311.9,112.2 312.5,112.2 313.2,112.2 313.8,112.2 314.4,112.2 315.0,112.2 315.6,112.2 316.2,112.2 316.8,112.2 317.4,112.2 318.1,112.2 318.7,112.2 319.3,112.2 319.9,112.2 320.5,112.2 321.1,112.2 321.7,112.2 322.3,112.2 322.9,112.2 323.6,112.2 324.2,112.2 324.8,112.2 325.4,112.2 326.0,112.2 326.6,112.2 327.2,112.2 327.8,112.2 328.5,112.2 329.1,112.2 329.7,112.2 330.3,112.2 330.9,112.2 331.5,112.2 332.1,112.2 332.7,112.2 333.4,112.2 334.0,112.2 334.6,112.2 335.2,112.2 335.8,112.2 336.4,112.2 337.0,112.2 337.6,112.2 338.3,112.2 338.9,112.2 339.5,112.2 340.1,112.2 340.7,112.2" fill="none" stroke="#2828ff" stroke-width="1.25" stroke-linejoin="round"/>
</g>
<rect x="255.00" y="26.40" width="85.70" height="85.80" fill="none" stroke="#222" stroke-width="1.1"/>
<line x1="255.00" y1="26.40" x2="255.00" y2="112.20" stroke="#555" stroke-width="1.4"/>
<line x1="253.00" y1="112.20" x2="255.00" y2="112.20" stroke="#444" stroke-width="0.6"/>
<text x="252.70" y="114.00" font-size="5" text-anchor="end" fill="#222" font-weight="bold" textLength="2.2" lengthAdjust="spacingAndGlyphs" stroke="#222" stroke-width="0.12">0</text>
<line x1="253.00" y1="90.75" x2="255.00" y2="90.75" stroke="#444" stroke-width="0.6"/>
<text x="252.70" y="92.55" font-size="5" text-anchor="end" fill="#222" font-weight="bold" textLength="4.4" lengthAdjust="spacingAndGlyphs" stroke="#222" stroke-width="0.12">25</text>
<line x1="253.00" y1="69.30" x2="255.00" y2="69.30" stroke="#444" stroke-width="0.6"/>
<text x="252.70" y="71.10" font-size="5" text-anchor="end" fill="#222" font-weight="bold" textLength="4.4" lengthAdjust="spacingAndGlyphs" stroke="#222" stroke-width="0.12">50</text>
<line x1="253.00" y1="47.85" x2="255.00" y2="47.85" stroke="#444" stroke-width="0.6"/>
<text x="252.70" y="49.65" font-size="5" text-anchor="end" fill="#222" font-weight="bold" textLength="4.4" lengthAdjust="spacingAndGlyphs" stroke="#222" stroke-width="0.12">75</text>
<line x1="253.00" y1="26.40" x2="255.00" y2="26.40" stroke="#444" stroke-width="0.6"/>
<text x="252.70" y="28.20" font-size="5" text-anchor="end" fill="#222" font-weight="bold" textLength="6.6" lengthAdjust="spacingAndGlyphs" stroke="#222" stroke-width="0.12">100</text>
<line x1="255.00" y1="112.20" x2="255.00" y2="114.20" stroke="#333" stroke-width="0.7"/>
<line x1="263.51" y1="112.20" x2="263.51" y2="113.40" stroke="#555" stroke-width="0.4"/>
<line x1="268.49" y1="112.20" x2="268.49" y2="113.40" stroke="#555" stroke-width="0.4"/>
<line x1="272.03" y1="112.20" x2="272.03" y2="113.40" stroke="#555" stroke-width="0.4"/>
<line x1="274.77" y1="112.20" x2="274.77" y2="113.40" stroke="#555" stroke-width="0.4"/>
<line x1="277.01" y1="112.20" x2="277.01" y2="113.40" stroke="#555" stroke-width="0.4"/>
<line x1="278.90" y1="112.20" x2="278.90" y2="113.40" stroke="#555" stroke-width="0.4"/>
<line x1="280.54" y1="112.20" x2="280.54" y2="113.40" stroke="#555" stroke-width="0.4"/>
<line x1="281.99" y1="112.20" x2="281.99" y2="113.40" stroke="#555" stroke-width="0.4"/>
<text x="254.80" y="121.50" font-size="4.6" text-anchor="middle" fill="#222" font-weight="bold" textLength="6" lengthAdjust="spacingAndGlyphs" stroke="#222" stroke-width="0.12">10<tspan font-size="3" dy="-2.4">2</tspan></text>
<line x1="283.28" y1="112.20" x2="283.28" y2="114.20" stroke="#333" stroke-width="0.7"/>
<line x1="291.80" y1="112.20" x2="291.80" y2="113.40" stroke="#555" stroke-width="0.4"/>
<line x1="296.78" y1="112.20" x2="296.78" y2="113.40" stroke="#555" stroke-width="0.4"/>
<line x1="300.31" y1="112.20" x2="300.31" y2="113.40" stroke="#555" stroke-width="0.4"/>
<line x1="303.05" y1="112.20" x2="303.05" y2="113.40" stroke="#555" stroke-width="0.4"/>
<line x1="305.29" y1="112.20" x2="305.29" y2="113.40" stroke="#555" stroke-width="0.4"/>
<line x1="307.19" y1="112.20" x2="307.19" y2="113.40" stroke="#555" stroke-width="0.4"/>
<line x1="308.83" y1="112.20" x2="308.83" y2="113.40" stroke="#555" stroke-width="0.4"/>
<line x1="310.27" y1="112.20" x2="310.27" y2="113.40" stroke="#555" stroke-width="0.4"/>
<text x="283.08" y="121.50" font-size="4.6" text-anchor="middle" fill="#222" font-weight="bold" textLength="6" lengthAdjust="spacingAndGlyphs" stroke="#222" stroke-width="0.12">10<tspan font-size="3" dy="-2.4">3</tspan></text>
<line x1="311.57" y1="112.20" x2="311.57" y2="114.20" stroke="#333" stroke-width="0.7"/>
<line x1="320.08" y1="112.20" x2="320.08" y2="113.40" stroke="#555" stroke-width="0.4"/>
<line x1="325.06" y1="112.20" x2="325.06" y2="113.40" stroke="#555" stroke-width="0.4"/>
<line x1="328.60" y1="112.20" x2="328.60" y2="113.40" stroke="#555" stroke-width="0.4"/>
<line x1="331.34" y1="112.20" x2="331.34" y2="113.40" stroke="#555" stroke-width="0.4"/>
<line x1="333.58" y1="112.20" x2="333.58" y2="113.40" stroke="#555" stroke-width="0.4"/>
<line x1="335.47" y1="112.20" x2="335.47" y2="113.40" stroke="#555" stroke-width="0.4"/>
<line x1="337.11" y1="112.20" x2="337.11" y2="113.40" stroke="#555" stroke-width="0.4"/>
<line x1="338.56" y1="112.20" x2="338.56" y2="113.40" stroke="#555" stroke-width="0.4"/>
<text x="311.37" y="121.50" font-size="4.6" text-anchor="middle" fill="#222" font-weight="bold" textLength="6" lengthAdjust="spacingAndGlyphs" stroke="#222" stroke-width="0.12">10<tspan font-size="3" dy="-2.4">4</tspan></text>
<line x1="339.85" y1="112.20" x2="339.85" y2="114.20" stroke="#333" stroke-width="0.7"/>
<text x="297.85" y="126.70" font-size="4.3" text-anchor="middle" fill="#222" stroke="#222" stroke-width="0.12" font-weight="bold">FITC-A</text>
<text transform="translate(243.40,69.30) rotate(-90)" font-size="4.9" text-anchor="middle" fill="#222" stroke="#222" stroke-width="0.15" font-weight="bold">Count</text>
</g>
<g>
<g clip-path="url(#cp30)">
<path d="M361.0,112.2 L361.0,112.2 L361.0,90.0 L361.1,89.7 L361.3,89.3 L361.5,89.0 L361.8,88.5 L362.1,87.8 L362.3,86.9 L362.6,85.7 L362.9,84.0 L363.2,81.8 L363.5,79.2 L363.8,76.2 L364.2,73.0 L364.5,69.6 L364.8,66.3 L365.2,63.0 L365.5,60.0 L365.8,57.1 L366.1,54.0 L366.4,51.0 L366.7,48.0 L367.0,45.2 L367.3,42.5 L367.7,40.1 L368.0,38.0 L368.4,36.3 L368.7,34.8 L369.1,33.6 L369.5,32.5 L369.9,31.7 L370.3,30.9 L370.6,30.2 L371.0,29.5 L371.4,28.8 L371.7,28.3 L372.1,27.8 L372.5,27.4 L372.8,27.1 L373.1,26.9 L373.5,26.8 L373.8,26.8 L374.1,26.9 L374.4,27.2 L374.7,27.5 L375.0,28.0 L375.3,28.5 L375.5,29.2 L375.8,30.0 L376.0,31.0 L376.2,32.0 L376.4,33.1 L376.5,34.3 L376.7,35.6 L376.8,37.2 L377.0,38.9 L377.2,41.0 L377.4,43.4 L377.7,46.3 L378.0,49.7 L378.4,53.5 L378.8,57.5 L379.1,61.5 L379.5,65.4 L379.9,69.1 L380.3,72.4 L380.6,75.3 L381.0,78.1 L381.3,80.7 L381.6,83.1 L382.0,85.5 L382.3,87.6 L382.7,89.7 L383.2,91.7 L383.7,93.6 L384.2,95.3 L384.8,96.9 L385.4,98.3 L386.0,99.7 L386.7,101.0 L387.3,102.2 L388.0,103.3 L388.7,104.3 L389.4,105.3 L390.1,106.1 L390.8,106.8 L391.6,107.5 L392.3,108.1 L393.1,108.7 L393.8,109.2 L394.5,109.7 L395.3,110.1 L396.1,110.4 L396.9,110.7 L397.7,111.0 L398.4,111.2 L399.0,111.4 L399.6,111.6 L400.1,111.8 L400.5,111.9 L400.9,112.0 L401.2,112.0 L401.4,112.1 L401.6,112.1 L401.8,112.2 L402.0,112.2 L402.0,112.2 Z" fill="#c0c0c0"/>
<path d="M361.0,104.7 361.6,103.5 362.2,102.0 362.8,100.4 363.5,98.6 364.1,96.6 364.7,94.3 365.3,91.9 365.9,89.2 366.5,86.4 367.1,83.3 367.8,80.0 368.4,76.5 369.0,72.9 369.6,69.1 370.2,65.2 370.8,61.2 371.4,57.2 372.1,53.2 372.7,49.2 373.3,45.4 373.9,41.8 374.5,38.3 375.1,35.2 375.7,32.5 376.4,30.1 377.0,28.3 377.6,27.1 378.2,26.4 378.4,26.4 378.8,26.7 379.4,27.7 380.0,29.2 380.7,31.0 381.3,33.2 381.9,35.7 382.5,38.4 383.1,41.3 383.7,44.3 384.3,47.5 385.0,50.7 385.6,53.9 386.2,57.2 386.8,60.5 387.4,63.7 388.0,66.8 388.6,69.9 389.3,72.9 389.9,75.8 390.5,78.5 391.1,81.2 391.7,83.7 392.3,86.1 392.9,88.4 393.6,90.5 394.2,92.5 394.8,94.3 395.4,96.0 396.0,97.6 396.6,99.1 397.2,100.4 397.9,101.7 398.5,102.8 399.1,103.8 399.7,104.8 400.3,105.6 400.9,106.4 401.5,107.1 402.2,107.7 402.8,108.2 403.4,108.7 404.0,109.2 404.6,109.6 405.2,109.9 405.8,110.2 406.5,110.5 407.1,110.7 407.7,110.9 408.3,111.1 408.9,111.2 409.5,111.4 410.1,111.5 410.8,111.6 411.4,111.7 412.0,111.8 412.6,111.8 413.2,111.9 413.8,111.9 414.4,112.0 415.1,112.0 415.7,112.0 416.3,112.1 416.9,112.1 417.5,112.1 418.1,112.1 418.7,112.1 419.4,112.1 420.0,112.2 420.6,112.2 421.2,112.2 421.8,112.2 422.4,112.2 423.0,112.2 423.7,112.2 424.3,112.2 424.9,112.2 425.5,112.2 426.1,112.2 426.7,112.2 427.3,112.2 428.0,112.2 428.6,112.2 429.2,112.2 429.8,112.2 430.4,112.2 431.0,112.2 431.6,112.2 432.3,112.2 432.9,112.2 433.5,112.2 434.1,112.2 434.7,112.2 435.3,112.2 435.9,112.2 436.6,112.2 437.2,112.2 437.8,112.2 438.4,112.2 439.0,112.2 439.6,112.2 440.2,112.2 440.9,112.2 441.5,112.2 442.1,112.2 442.7,112.2 443.3,112.2 443.9,112.2 444.5,112.2 445.2,112.2 445.8,112.2 446.4,112.2 447.0,112.2" fill="none" stroke="#ff8020" stroke-width="1.25" stroke-linejoin="round"/>
<path d="M361.0,106.7 361.6,105.6 362.2,104.4 362.8,103.0 363.5,101.4 364.1,99.6 364.7,97.6 365.3,95.3 365.9,92.8 366.5,90.0 367.1,87.0 367.8,83.6 368.4,80.1 369.0,76.3 369.6,72.2 370.2,68.0 370.8,63.6 371.4,59.1 372.1,54.6 372.7,50.0 373.3,45.6 373.9,41.4 374.5,37.4 375.1,33.8 375.7,30.8 376.4,28.4 377.0,26.8 377.4,26.4 377.6,26.5 378.2,27.4 378.8,28.9 379.4,31.0 380.0,33.5 380.7,36.3 381.3,39.4 381.9,42.7 382.5,46.1 383.1,49.7 383.7,53.3 384.3,57.0 385.0,60.6 385.6,64.2 386.2,67.8 386.8,71.2 387.4,74.5 388.0,77.6 388.6,80.6 389.3,83.5 389.9,86.2 390.5,88.7 391.1,91.0 391.7,93.2 392.3,95.2 392.9,97.0 393.6,98.7 394.2,100.3 394.8,101.7 395.4,102.9 396.0,104.0 396.6,105.1 397.2,106.0 397.9,106.8 398.5,107.5 399.1,108.1 399.7,108.7 400.3,109.2 400.9,109.6 401.5,110.0 402.2,110.3 402.8,110.6 403.4,110.8 404.0,111.1 404.6,111.2 405.2,111.4 405.8,111.5 406.5,111.6 407.1,111.7 407.7,111.8 408.3,111.9 408.9,111.9 409.5,112.0 410.1,112.0 410.8,112.0 411.4,112.1 412.0,112.1 412.6,112.1 413.2,112.1 413.8,112.1 414.4,112.2 415.1,112.2 415.7,112.2 416.3,112.2 416.9,112.2 417.5,112.2 418.1,112.2 418.7,112.2 419.4,112.2 420.0,112.2 420.6,112.2 421.2,112.2 421.8,112.2 422.4,112.2 423.0,112.2 423.7,112.2 424.3,112.2 424.9,112.2 425.5,112.2 426.1,112.2 426.7,112.2 427.3,112.2 428.0,112.2 428.6,112.2 429.2,112.2 429.8,112.2 430.4,112.2 431.0,112.2 431.6,112.2 432.3,112.2 432.9,112.2 433.5,112.2 434.1,112.2 434.7,112.2 435.3,112.2 435.9,112.2 436.6,112.2 437.2,112.2 437.8,112.2 438.4,112.2 439.0,112.2 439.6,112.2 440.2,112.2 440.9,112.2 441.5,112.2 442.1,112.2 442.7,112.2 443.3,112.2 443.9,112.2 444.5,112.2 445.2,112.2 445.8,112.2 446.4,112.2 447.0,112.2" fill="none" stroke="#10a030" stroke-width="1.25" stroke-linejoin="round"/>
<path d="M361.0,101.9 361.6,100.1 362.2,98.0 362.8,95.7 363.5,93.1 364.1,90.2 364.7,87.0 365.3,83.6 365.9,80.0 366.5,76.1 367.1,72.0 367.8,67.7 368.4,63.3 369.0,58.9 369.6,54.4 370.2,50.0 370.8,45.7 371.4,41.6 372.1,37.9 372.7,34.5 373.3,31.6 373.9,29.2 374.5,27.5 375.1,26.6 375.5,26.4 375.7,26.5 376.4,27.3 377.0,28.5 377.6,30.2 378.2,32.1 378.8,34.4 379.4,36.8 380.0,39.5 380.7,42.3 381.3,45.2 381.9,48.2 382.5,51.3 383.1,54.4 383.7,57.5 384.3,60.6 385.0,63.7 385.6,66.7 386.2,69.6 386.8,72.5 387.4,75.2 388.0,77.9 388.6,80.4 389.3,82.9 389.9,85.2 390.5,87.4 391.1,89.5 391.7,91.4 392.3,93.3 392.9,95.0 393.6,96.6 394.2,98.0 394.8,99.4 395.4,100.7 396.0,101.8 396.6,102.9 397.2,103.9 397.9,104.8 398.5,105.6 399.1,106.3 399.7,107.0 400.3,107.6 400.9,108.1 401.5,108.6 402.2,109.0 402.8,109.4 403.4,109.8 404.0,110.1 404.6,110.3 405.2,110.6 405.8,110.8 406.5,111.0 407.1,111.1 407.7,111.3 408.3,111.4 408.9,111.5 409.5,111.6 410.1,111.7 410.8,111.8 411.4,111.8 412.0,111.9 412.6,111.9 413.2,112.0 413.8,112.0 414.4,112.0 415.1,112.1 415.7,112.1 416.3,112.1 416.9,112.1 417.5,112.1 418.1,112.1 418.7,112.2 419.4,112.2 420.0,112.2 420.6,112.2 421.2,112.2 421.8,112.2 422.4,112.2 423.0,112.2 423.7,112.2 424.3,112.2 424.9,112.2 425.5,112.2 426.1,112.2 426.7,112.2 427.3,112.2 428.0,112.2 428.6,112.2 429.2,112.2 429.8,112.2 430.4,112.2 431.0,112.2 431.6,112.2 432.3,112.2 432.9,112.2 433.5,112.2 434.1,112.2 434.7,112.2 435.3,112.2 435.9,112.2 436.6,112.2 437.2,112.2 437.8,112.2 438.4,112.2 439.0,112.2 439.6,112.2 440.2,112.2 440.9,112.2 441.5,112.2 442.1,112.2 442.7,112.2 443.3,112.2 443.9,112.2 444.5,112.2 445.2,112.2 445.8,112.2 446.4,112.2 447.0,112.2" fill="none" stroke="#ff2020" stroke-width="1.25" stroke-linejoin="round"/>
<path d="M361.0,103.5 361.6,101.4 362.2,98.9 362.8,96.0 363.5,92.7 364.1,89.0 364.7,84.8 365.3,80.3 365.9,75.5 366.5,70.3 367.1,65.0 367.8,59.5 368.4,54.1 369.0,48.8 369.6,43.8 370.2,39.2 370.8,35.1 371.4,31.7 372.1,29.1 372.7,27.3 373.3,26.5 373.5,26.4 373.9,26.8 374.5,28.6 375.1,31.3 375.7,34.8 376.4,38.8 377.0,43.1 377.6,47.8 378.2,52.6 378.8,57.4 379.4,62.2 380.0,66.9 380.7,71.5 381.3,75.8 381.9,79.9 382.5,83.6 383.1,87.2 383.7,90.4 384.3,93.3 385.0,95.9 385.6,98.2 386.2,100.3 386.8,102.1 387.4,103.7 388.0,105.1 388.6,106.2 389.3,107.3 389.9,108.1 390.5,108.9 391.1,109.5 391.7,110.0 392.3,110.4 392.9,110.8 393.6,111.0 394.2,111.3 394.8,111.5 395.4,111.6 396.0,111.7 396.6,111.8 397.2,111.9 397.9,112.0 398.5,112.0 399.1,112.1 399.7,112.1 400.3,112.1 400.9,112.1 401.5,112.2 402.2,112.2 402.8,112.2 403.4,112.2 404.0,112.2 404.6,112.2 405.2,112.2 405.8,112.2 406.5,112.2 407.1,112.2 407.7,112.2 408.3,112.2 408.9,112.2 409.5,112.2 410.1,112.2 410.8,112.2 411.4,112.2 412.0,112.2 412.6,112.2 413.2,112.2 413.8,112.2 414.4,112.2 415.1,112.2 415.7,112.2 416.3,112.2 416.9,112.2 417.5,112.2 418.1,112.2 418.7,112.2 419.4,112.2 420.0,112.2 420.6,112.2 421.2,112.2 421.8,112.2 422.4,112.2 423.0,112.2 423.7,112.2 424.3,112.2 424.9,112.2 425.5,112.2 426.1,112.2 426.7,112.2 427.3,112.2 428.0,112.2 428.6,112.2 429.2,112.2 429.8,112.2 430.4,112.2 431.0,112.2 431.6,112.2 432.3,112.2 432.9,112.2 433.5,112.2 434.1,112.2 434.7,112.2 435.3,112.2 435.9,112.2 436.6,112.2 437.2,112.2 437.8,112.2 438.4,112.2 439.0,112.2 439.6,112.2 440.2,112.2 440.9,112.2 441.5,112.2 442.1,112.2 442.7,112.2 443.3,112.2 443.9,112.2 444.5,112.2 445.2,112.2 445.8,112.2 446.4,112.2 447.0,112.2" fill="none" stroke="#2828ff" stroke-width="1.25" stroke-linejoin="round"/>
</g>
<rect x="361.00" y="26.40" width="86.00" height="85.80" fill="none" stroke="#222" stroke-width="1.1"/>
<line x1="361.00" y1="26.40" x2="361.00" y2="112.20" stroke="#555" stroke-width="1.4"/>
<line x1="359.00" y1="112.20" x2="361.00" y2="112.20" stroke="#444" stroke-width="0.6"/>
<text x="358.70" y="114.00" font-size="5" text-anchor="end" fill="#222" font-weight="bold" textLength="2.2" lengthAdjust="spacingAndGlyphs" stroke="#222" stroke-width="0.12">0</text>
<line x1="359.00" y1="90.75" x2="361.00" y2="90.75" stroke="#444" stroke-width="0.6"/>
<text x="358.70" y="92.55" font-size="5" text-anchor="end" fill="#222" font-weight="bold" textLength="4.4" lengthAdjust="spacingAndGlyphs" stroke="#222" stroke-width="0.12">25</text>
<line x1="359.00" y1="69.30" x2="361.00" y2="69.30" stroke="#444" stroke-width="0.6"/>
<text x="358.70" y="71.10" font-size="5" text-anchor="end" fill="#222" font-weight="bold" textLength="4.4" lengthAdjust="spacingAndGlyphs" stroke="#222" stroke-width="0.12">50</text>
<line x1="359.00" y1="47.85" x2="361.00" y2="47.85" stroke="#444" stroke-width="0.6"/>
<text x="358.70" y="49.65" font-size="5" text-anchor="end" fill="#222" font-weight="bold" textLength="4.4" lengthAdjust="spacingAndGlyphs" stroke="#222" stroke-width="0.12">75</text>
<line x1="359.00" y1="26.40" x2="361.00" y2="26.40" stroke="#444" stroke-width="0.6"/>
<text x="358.70" y="28.20" font-size="5" text-anchor="end" fill="#222" font-weight="bold" textLength="6.6" lengthAdjust="spacingAndGlyphs" stroke="#222" stroke-width="0.12">100</text>
<line x1="361.00" y1="112.20" x2="361.00" y2="114.20" stroke="#333" stroke-width="0.7"/>
<line x1="369.54" y1="112.20" x2="369.54" y2="113.40" stroke="#555" stroke-width="0.4"/>
<line x1="374.54" y1="112.20" x2="374.54" y2="113.40" stroke="#555" stroke-width="0.4"/>
<line x1="378.09" y1="112.20" x2="378.09" y2="113.40" stroke="#555" stroke-width="0.4"/>
<line x1="380.84" y1="112.20" x2="380.84" y2="113.40" stroke="#555" stroke-width="0.4"/>
<line x1="383.09" y1="112.20" x2="383.09" y2="113.40" stroke="#555" stroke-width="0.4"/>
<line x1="384.99" y1="112.20" x2="384.99" y2="113.40" stroke="#555" stroke-width="0.4"/>
<line x1="386.63" y1="112.20" x2="386.63" y2="113.40" stroke="#555" stroke-width="0.4"/>
<line x1="388.08" y1="112.20" x2="388.08" y2="113.40" stroke="#555" stroke-width="0.4"/>
<text x="360.80" y="121.50" font-size="4.6" text-anchor="middle" fill="#222" font-weight="bold" textLength="6" lengthAdjust="spacingAndGlyphs" stroke="#222" stroke-width="0.12">10<tspan font-size="3" dy="-2.4">2</tspan></text>
<line x1="389.38" y1="112.20" x2="389.38" y2="114.20" stroke="#333" stroke-width="0.7"/>
<line x1="397.93" y1="112.20" x2="397.93" y2="113.40" stroke="#555" stroke-width="0.4"/>
<line x1="402.92" y1="112.20" x2="402.92" y2="113.40" stroke="#555" stroke-width="0.4"/>
<line x1="406.47" y1="112.20" x2="406.47" y2="113.40" stroke="#555" stroke-width="0.4"/>
<line x1="409.22" y1="112.20" x2="409.22" y2="113.40" stroke="#555" stroke-width="0.4"/>
<line x1="411.47" y1="112.20" x2="411.47" y2="113.40" stroke="#555" stroke-width="0.4"/>
<line x1="413.37" y1="112.20" x2="413.37" y2="113.40" stroke="#555" stroke-width="0.4"/>
<line x1="415.02" y1="112.20" x2="415.02" y2="113.40" stroke="#555" stroke-width="0.4"/>
<line x1="416.47" y1="112.20" x2="416.47" y2="113.40" stroke="#555" stroke-width="0.4"/>
<text x="389.18" y="121.50" font-size="4.6" text-anchor="middle" fill="#222" font-weight="bold" textLength="6" lengthAdjust="spacingAndGlyphs" stroke="#222" stroke-width="0.12">10<tspan font-size="3" dy="-2.4">3</tspan></text>
<line x1="417.77" y1="112.20" x2="417.77" y2="114.20" stroke="#333" stroke-width="0.7"/>
<line x1="426.31" y1="112.20" x2="426.31" y2="113.40" stroke="#555" stroke-width="0.4"/>
<line x1="431.31" y1="112.20" x2="431.31" y2="113.40" stroke="#555" stroke-width="0.4"/>
<line x1="434.85" y1="112.20" x2="434.85" y2="113.40" stroke="#555" stroke-width="0.4"/>
<line x1="437.60" y1="112.20" x2="437.60" y2="113.40" stroke="#555" stroke-width="0.4"/>
<line x1="439.85" y1="112.20" x2="439.85" y2="113.40" stroke="#555" stroke-width="0.4"/>
<line x1="441.75" y1="112.20" x2="441.75" y2="113.40" stroke="#555" stroke-width="0.4"/>
<line x1="443.40" y1="112.20" x2="443.40" y2="113.40" stroke="#555" stroke-width="0.4"/>
<line x1="444.85" y1="112.20" x2="444.85" y2="113.40" stroke="#555" stroke-width="0.4"/>
<text x="417.57" y="121.50" font-size="4.6" text-anchor="middle" fill="#222" font-weight="bold" textLength="6" lengthAdjust="spacingAndGlyphs" stroke="#222" stroke-width="0.12">10<tspan font-size="3" dy="-2.4">4</tspan></text>
<line x1="446.15" y1="112.20" x2="446.15" y2="114.20" stroke="#333" stroke-width="0.7"/>
<text x="404.00" y="126.70" font-size="4.3" text-anchor="middle" fill="#222" stroke="#222" stroke-width="0.12" font-weight="bold">FITC-A</text>
<text transform="translate(349.40,69.30) rotate(-90)" font-size="4.9" text-anchor="middle" fill="#222" stroke="#222" stroke-width="0.15" font-weight="bold">Count</text>
</g>
<g>
<g clip-path="url(#cp01)">
<path d="M43.0,220.8 L68.0,220.8 L68.0,220.8 L68.2,220.8 L68.5,220.8 L68.9,220.8 L69.3,220.9 L69.7,220.8 L70.1,220.7 L70.5,220.5 L70.8,220.2 L71.1,219.8 L71.3,219.3 L71.6,218.7 L71.8,218.1 L72.0,217.4 L72.3,216.5 L72.5,215.5 L72.8,214.4 L73.1,213.1 L73.5,211.7 L73.9,210.1 L74.3,208.5 L74.6,206.7 L75.0,204.8 L75.4,202.8 L75.7,200.8 L76.0,198.7 L76.2,196.4 L76.5,193.9 L76.7,191.5 L76.9,188.9 L77.1,186.4 L77.4,183.9 L77.6,181.4 L77.8,179.0 L78.1,176.5 L78.3,174.0 L78.5,171.6 L78.8,169.1 L79.0,166.7 L79.3,164.3 L79.5,162.0 L79.7,159.7 L80.0,157.2 L80.3,154.8 L80.5,152.5 L80.8,150.2 L81.0,148.1 L81.3,146.2 L81.5,144.6 L81.7,143.3 L81.9,142.2 L82.1,141.3 L82.3,140.6 L82.5,140.0 L82.6,139.5 L82.8,139.0 L83.0,138.5 L83.2,138.0 L83.4,137.5 L83.5,137.2 L83.7,136.8 L83.9,136.6 L84.1,136.4 L84.2,136.2 L84.4,136.2 L84.6,136.2 L84.7,136.4 L84.9,136.6 L85.1,136.8 L85.3,137.2 L85.4,137.5 L85.6,138.0 L85.8,138.5 L86.0,139.0 L86.2,139.5 L86.3,140.0 L86.5,140.6 L86.7,141.3 L86.9,142.2 L87.1,143.3 L87.3,144.6 L87.5,146.2 L87.7,148.1 L88.0,150.2 L88.2,152.5 L88.5,154.8 L88.7,157.2 L89.0,159.7 L89.2,162.0 L89.4,164.4 L89.7,166.8 L89.9,169.4 L90.1,171.9 L90.4,174.5 L90.6,176.9 L90.9,179.2 L91.2,181.4 L91.5,183.4 L91.8,185.3 L92.1,187.0 L92.5,188.7 L92.8,190.3 L93.2,191.9 L93.6,193.4 L94.1,195.0 L94.6,196.6 L95.1,198.1 L95.7,199.7 L96.3,201.2 L96.9,202.6 L97.5,204.0 L98.2,205.3 L98.9,206.6 L99.6,207.8 L100.4,208.9 L101.3,209.9 L102.1,210.9 L103.0,211.9 L103.9,212.8 L104.8,213.6 L105.7,214.4 L106.6,215.2 L107.6,215.9 L108.7,216.6 L109.7,217.2 L110.7,217.8 L111.7,218.3 L112.6,218.8 L113.4,219.2 L114.2,219.6 L114.9,219.9 L115.6,220.1 L116.2,220.3 L116.7,220.5 L117.2,220.6 L117.7,220.7 L118.0,220.8 L118.0,220.8 Z" fill="#c0c0c0"/>
<path d="M43.0,220.8 43.6,220.8 44.2,220.8 44.9,220.8 45.5,220.8 46.1,220.8 46.7,220.8 47.3,220.8 48.0,220.8 48.6,220.8 49.2,220.8 49.8,220.8 50.4,220.8 51.1,220.8 51.7,220.8 52.3,220.8 52.9,220.8 53.5,220.8 54.2,220.8 54.8,220.8 55.4,220.8 56.0,220.8 56.6,220.8 57.3,220.8 57.9,220.8 58.5,220.8 59.1,220.8 59.7,220.8 60.4,220.8 61.0,220.8 61.6,220.8 62.2,220.8 62.8,220.8 63.5,220.8 64.1,220.8 64.7,220.8 65.3,220.8 65.9,220.8 66.6,220.8 67.2,220.8 67.8,220.8 68.4,220.8 69.0,220.8 69.7,220.8 70.3,220.8 70.9,220.8 71.5,220.8 72.1,220.8 72.8,220.8 73.4,220.8 74.0,220.8 74.6,220.8 75.2,220.8 75.9,220.8 76.5,220.8 77.1,220.8 77.7,220.7 78.3,220.7 79.0,220.7 79.6,220.6 80.2,220.5 80.8,220.4 81.4,220.2 82.1,219.9 82.7,219.6 83.3,219.2 83.9,218.6 84.5,217.9 85.2,217.0 85.8,215.9 86.4,214.5 87.0,212.8 87.6,210.8 88.3,208.4 88.9,205.6 89.5,202.4 90.1,198.8 90.7,194.8 91.4,190.4 92.0,185.7 92.6,180.7 93.2,175.5 93.8,170.2 94.5,164.9 95.1,159.7 95.7,154.8 96.3,150.2 96.9,146.1 97.6,142.5 98.2,139.6 98.8,137.4 99.4,136.0 100.0,135.3 100.4,135.2 100.7,135.4 101.3,136.6 101.9,138.6 102.5,141.3 103.1,144.4 103.8,147.9 104.4,151.7 105.0,155.6 105.6,159.8 106.2,163.9 106.9,168.1 107.5,172.2 108.1,176.3 108.7,180.2 109.3,183.9 110.0,187.5 110.6,190.8 111.2,194.0 111.8,196.9 112.4,199.6 113.1,202.1 113.7,204.3 114.3,206.4 114.9,208.2 115.5,209.9 116.2,211.4 116.8,212.7 117.4,213.8 118.0,214.8 118.6,215.7 119.3,216.5 119.9,217.2 120.5,217.7 121.1,218.2 121.7,218.7 122.4,219.0 123.0,219.3 123.6,219.6 124.2,219.8 124.8,220.0 125.5,220.1 126.1,220.3 126.7,220.4 127.3,220.4 127.9,220.5 128.6,220.6 129.2,220.6 129.8,220.7" fill="none" stroke="#ff8020" stroke-width="1.25" stroke-linejoin="round"/>
<path d="M43.0,220.8 43.6,220.8 44.2,220.8 44.9,220.8 45.5,220.8 46.1,220.8 46.7,220.8 47.3,220.8 48.0,220.8 48.6,220.8 49.2,220.8 49.8,220.8 50.4,220.8 51.1,220.8 51.7,220.8 52.3,220.8 52.9,220.8 53.5,220.8 54.2,220.8 54.8,220.8 55.4,220.8 56.0,220.8 56.6,220.8 57.3,220.8 57.9,220.8 58.5,220.8 59.1,220.8 59.7,220.8 60.4,220.8 61.0,220.8 61.6,220.8 62.2,220.8 62.8,220.8 63.5,220.8 64.1,220.8 64.7,220.8 65.3,220.8 65.9,220.8 66.6,220.8 67.2,220.8 67.8,220.8 68.4,220.8 69.0,220.8 69.7,220.8 70.3,220.8 70.9,220.8 71.5,220.8 72.1,220.8 72.8,220.8 73.4,220.8 74.0,220.8 74.6,220.8 75.2,220.8 75.9,220.8 76.5,220.8 77.1,220.8 77.7,220.8 78.3,220.8 79.0,220.8 79.6,220.8 80.2,220.8 80.8,220.7 81.4,220.7 82.1,220.7 82.7,220.7 83.3,220.6 83.9,220.6 84.5,220.5 85.2,220.5 85.8,220.4 86.4,220.3 87.0,220.1 87.6,220.0 88.3,219.8 88.9,219.6 89.5,219.3 90.1,219.0 90.7,218.6 91.4,218.1 92.0,217.6 92.6,217.0 93.2,216.2 93.8,215.4 94.5,214.4 95.1,213.3 95.7,212.1 96.3,210.6 96.9,209.0 97.6,207.2 98.2,205.2 98.8,203.0 99.4,200.6 100.0,197.9 100.7,195.0 101.3,191.9 101.9,188.6 102.5,185.1 103.1,181.4 103.8,177.5 104.4,173.5 105.0,169.5 105.6,165.3 106.2,161.2 106.9,157.1 107.5,153.2 108.1,149.4 108.7,145.9 109.3,142.7 110.0,140.0 110.6,137.8 111.2,136.1 111.8,135.3 112.0,135.2 112.4,135.2 113.1,135.5 113.7,136.0 114.3,137.1 114.9,138.6 115.5,140.7 116.2,143.4 116.8,146.7 117.4,150.5 118.0,154.9 118.6,159.6 119.3,164.7 119.9,170.0 120.5,175.4 121.1,180.7 121.7,185.9 122.4,190.9 123.0,195.6 123.6,199.9 124.2,203.7 124.8,207.0 125.5,209.9 126.1,212.4 126.7,214.4 127.3,216.0 127.9,217.3 128.6,218.2 129.2,219.0 129.8,219.6" fill="none" stroke="#10a030" stroke-width="1.25" stroke-linejoin="round"/>
<path d="M43.0,220.8 43.6,220.8 44.2,220.8 44.9,220.8 45.5,220.8 46.1,220.8 46.7,220.8 47.3,220.7 48.0,220.7 48.6,220.7 49.2,220.6 49.8,220.6 50.4,220.5 51.1,220.4 51.7,220.3 52.3,220.1 52.9,220.0 53.5,219.7 54.2,219.4 54.8,219.0 55.4,218.6 56.0,218.0 56.6,217.3 57.3,216.5 57.9,215.4 58.5,214.2 59.1,212.8 59.7,211.1 60.4,209.2 61.0,206.9 61.6,204.3 62.2,201.4 62.8,198.1 63.5,194.4 64.1,190.4 64.7,186.1 65.3,181.4 65.9,176.4 66.6,171.3 67.2,166.0 67.8,160.6 68.4,155.4 69.0,150.3 69.7,145.7 70.3,141.6 70.9,138.2 71.5,135.9 72.0,135.2 72.1,135.3 72.8,136.6 73.4,138.9 74.0,142.0 74.6,145.7 75.2,149.8 75.9,154.3 76.5,159.0 77.1,163.7 77.7,168.5 78.3,173.2 79.0,177.8 79.6,182.1 80.2,186.3 80.8,190.2 81.4,193.8 82.1,197.1 82.7,200.2 83.3,202.9 83.9,205.4 84.5,207.6 85.2,209.6 85.8,211.3 86.4,212.8 87.0,214.1 87.6,215.2 88.3,216.1 88.9,216.9 89.5,217.6 90.1,218.2 90.7,218.7 91.4,219.1 92.0,219.4 92.6,219.7 93.2,219.9 93.8,220.1 94.5,220.2 95.1,220.4 95.7,220.5 96.3,220.5 96.9,220.6 97.6,220.6 98.2,220.7 98.8,220.7 99.4,220.7 100.0,220.7 100.7,220.8 101.3,220.8 101.9,220.8 102.5,220.8 103.1,220.8 103.8,220.8 104.4,220.8 105.0,220.8 105.6,220.8 106.2,220.8 106.9,220.8 107.5,220.8 108.1,220.8 108.7,220.8 109.3,220.8 110.0,220.8 110.6,220.8 111.2,220.8 111.8,220.8 112.4,220.8 113.1,220.8 113.7,220.8 114.3,220.8 114.9,220.8 115.5,220.8 116.2,220.8 116.8,220.8 117.4,220.8 118.0,220.8 118.6,220.8 119.3,220.8 119.9,220.8 120.5,220.8 121.1,220.8 121.7,220.8 122.4,220.8 123.0,220.8 123.6,220.8 124.2,220.8 124.8,220.8 125.5,220.8 126.1,220.8 126.7,220.8 127.3,220.8 127.9,220.8 128.6,220.8 129.2,220.8 129.8,220.8" fill="none" stroke="#ff2020" stroke-width="1.25" stroke-linejoin="round"/>
<path d="M43.0,220.8 43.6,220.8 44.2,220.8 44.9,220.8 45.5,220.8 46.1,220.8 46.7,220.8 47.3,220.8 48.0,220.8 48.6,220.8 49.2,220.8 49.8,220.8 50.4,220.8 51.1,220.8 51.7,220.8 52.3,220.8 52.9,220.8 53.5,220.8 54.2,220.8 54.8,220.8 55.4,220.8 56.0,220.8 56.6,220.8 57.3,220.8 57.9,220.8 58.5,220.8 59.1,220.8 59.7,220.8 60.4,220.8 61.0,220.8 61.6,220.8 62.2,220.8 62.8,220.8 63.5,220.8 64.1,220.8 64.7,220.8 65.3,220.8 65.9,220.8 66.6,220.8 67.2,220.8 67.8,220.8 68.4,220.8 69.0,220.8 69.7,220.8 70.3,220.8 70.9,220.8 71.5,220.8 72.1,220.8 72.8,220.8 73.4,220.8 74.0,220.8 74.6,220.8 75.2,220.8 75.9,220.8 76.5,220.8 77.1,220.8 77.7,220.7 78.3,220.7 79.0,220.7 79.6,220.7 80.2,220.7 80.8,220.6 81.4,220.6 82.1,220.5 82.7,220.4 83.3,220.3 83.9,220.2 84.5,220.0 85.2,219.9 85.8,219.6 86.4,219.4 87.0,219.0 87.6,218.7 88.3,218.2 88.9,217.7 89.5,217.1 90.1,216.4 90.7,215.6 91.4,214.6 92.0,213.6 92.6,212.4 93.2,211.0 93.8,209.5 94.5,207.8 95.1,205.9 95.7,203.9 96.3,201.6 96.9,199.2 97.6,196.6 98.2,193.8 98.8,190.9 99.4,187.8 100.0,184.5 100.7,181.2 101.3,177.7 101.9,174.2 102.5,170.6 103.1,167.0 103.8,163.4 104.4,159.9 105.0,156.5 105.6,153.3 106.2,150.2 106.9,147.3 107.5,144.6 108.1,142.3 108.7,140.2 109.3,138.5 110.0,137.1 110.6,136.1 111.2,135.5 111.8,135.2 112.0,135.2 112.4,135.2 113.1,135.4 113.7,135.9 114.3,136.7 114.9,137.9 115.5,139.6 116.2,141.8 116.8,144.6 117.4,147.8 118.0,151.5 118.6,155.6 119.3,160.1 119.9,164.8 120.5,169.8 121.1,174.8 121.7,179.8 122.4,184.8 123.0,189.5 123.6,194.0 124.2,198.1 124.8,201.9 125.5,205.3 126.1,208.3 126.7,210.8 127.3,213.0 127.9,214.8 128.6,216.2 129.2,217.4 129.8,218.3" fill="none" stroke="#2828ff" stroke-width="1.25" stroke-linejoin="round"/>
</g>
<rect x="43.00" y="135.20" width="86.80" height="85.60" fill="none" stroke="#222" stroke-width="1.1"/>
<line x1="43.00" y1="135.20" x2="43.00" y2="220.80" stroke="#555" stroke-width="1.4"/>
<line x1="41.00" y1="220.80" x2="43.00" y2="220.80" stroke="#444" stroke-width="0.6"/>
<text x="40.70" y="222.60" font-size="5" text-anchor="end" fill="#222" font-weight="bold" textLength="2.2" lengthAdjust="spacingAndGlyphs" stroke="#222" stroke-width="0.12">0</text>
<line x1="41.00" y1="199.40" x2="43.00" y2="199.40" stroke="#444" stroke-width="0.6"/>
<text x="40.70" y="201.20" font-size="5" text-anchor="end" fill="#222" font-weight="bold" textLength="4.4" lengthAdjust="spacingAndGlyphs" stroke="#222" stroke-width="0.12">25</text>
<line x1="41.00" y1="178.00" x2="43.00" y2="178.00" stroke="#444" stroke-width="0.6"/>
<text x="40.70" y="179.80" font-size="5" text-anchor="end" fill="#222" font-weight="bold" textLength="4.4" lengthAdjust="spacingAndGlyphs" stroke="#222" stroke-width="0.12">50</text>
<line x1="41.00" y1="156.60" x2="43.00" y2="156.60" stroke="#444" stroke-width="0.6"/>
<text x="40.70" y="158.40" font-size="5" text-anchor="end" fill="#222" font-weight="bold" textLength="4.4" lengthAdjust="spacingAndGlyphs" stroke="#222" stroke-width="0.12">75</text>
<line x1="41.00" y1="135.20" x2="43.00" y2="135.20" stroke="#444" stroke-width="0.6"/>
<text x="40.70" y="137.00" font-size="5" text-anchor="end" fill="#222" font-weight="bold" textLength="6.6" lengthAdjust="spacingAndGlyphs" stroke="#222" stroke-width="0.12">100</text>
<line x1="43.00" y1="220.80" x2="43.00" y2="222.80" stroke="#333" stroke-width="0.7"/>
<line x1="51.62" y1="220.80" x2="51.62" y2="222.00" stroke="#555" stroke-width="0.4"/>
<line x1="56.67" y1="220.80" x2="56.67" y2="222.00" stroke="#555" stroke-width="0.4"/>
<line x1="60.25" y1="220.80" x2="60.25" y2="222.00" stroke="#555" stroke-width="0.4"/>
<line x1="63.02" y1="220.80" x2="63.02" y2="222.00" stroke="#555" stroke-width="0.4"/>
<line x1="65.29" y1="220.80" x2="65.29" y2="222.00" stroke="#555" stroke-width="0.4"/>
<line x1="67.21" y1="220.80" x2="67.21" y2="222.00" stroke="#555" stroke-width="0.4"/>
<line x1="68.87" y1="220.80" x2="68.87" y2="222.00" stroke="#555" stroke-width="0.4"/>
<line x1="70.34" y1="220.80" x2="70.34" y2="222.00" stroke="#555" stroke-width="0.4"/>
<text x="42.80" y="230.10" font-size="4.6" text-anchor="middle" fill="#222" font-weight="bold" textLength="6" lengthAdjust="spacingAndGlyphs" stroke="#222" stroke-width="0.12">10<tspan font-size="3" dy="-2.4">2</tspan></text>
<line x1="71.65" y1="220.80" x2="71.65" y2="222.80" stroke="#333" stroke-width="0.7"/>
<line x1="80.27" y1="220.80" x2="80.27" y2="222.00" stroke="#555" stroke-width="0.4"/>
<line x1="85.31" y1="220.80" x2="85.31" y2="222.00" stroke="#555" stroke-width="0.4"/>
<line x1="88.89" y1="220.80" x2="88.89" y2="222.00" stroke="#555" stroke-width="0.4"/>
<line x1="91.67" y1="220.80" x2="91.67" y2="222.00" stroke="#555" stroke-width="0.4"/>
<line x1="93.94" y1="220.80" x2="93.94" y2="222.00" stroke="#555" stroke-width="0.4"/>
<line x1="95.86" y1="220.80" x2="95.86" y2="222.00" stroke="#555" stroke-width="0.4"/>
<line x1="97.52" y1="220.80" x2="97.52" y2="222.00" stroke="#555" stroke-width="0.4"/>
<line x1="98.98" y1="220.80" x2="98.98" y2="222.00" stroke="#555" stroke-width="0.4"/>
<text x="71.45" y="230.10" font-size="4.6" text-anchor="middle" fill="#222" font-weight="bold" textLength="6" lengthAdjust="spacingAndGlyphs" stroke="#222" stroke-width="0.12">10<tspan font-size="3" dy="-2.4">3</tspan></text>
<line x1="100.29" y1="220.80" x2="100.29" y2="222.80" stroke="#333" stroke-width="0.7"/>
<line x1="108.92" y1="220.80" x2="108.92" y2="222.00" stroke="#555" stroke-width="0.4"/>
<line x1="113.96" y1="220.80" x2="113.96" y2="222.00" stroke="#555" stroke-width="0.4"/>
<line x1="117.54" y1="220.80" x2="117.54" y2="222.00" stroke="#555" stroke-width="0.4"/>
<line x1="120.32" y1="220.80" x2="120.32" y2="222.00" stroke="#555" stroke-width="0.4"/>
<line x1="122.59" y1="220.80" x2="122.59" y2="222.00" stroke="#555" stroke-width="0.4"/>
<line x1="124.50" y1="220.80" x2="124.50" y2="222.00" stroke="#555" stroke-width="0.4"/>
<line x1="126.16" y1="220.80" x2="126.16" y2="222.00" stroke="#555" stroke-width="0.4"/>
<line x1="127.63" y1="220.80" x2="127.63" y2="222.00" stroke="#555" stroke-width="0.4"/>
<text x="100.09" y="230.10" font-size="4.6" text-anchor="middle" fill="#222" font-weight="bold" textLength="6" lengthAdjust="spacingAndGlyphs" stroke="#222" stroke-width="0.12">10<tspan font-size="3" dy="-2.4">4</tspan></text>
<line x1="128.94" y1="220.80" x2="128.94" y2="222.80" stroke="#333" stroke-width="0.7"/>
<text x="86.40" y="235.30" font-size="4.3" text-anchor="middle" fill="#222" stroke="#222" stroke-width="0.12" font-weight="bold">PE-Cy7-A</text>
<text transform="translate(31.40,178.00) rotate(-90)" font-size="4.9" text-anchor="middle" fill="#222" stroke="#222" stroke-width="0.15" font-weight="bold">Count</text>
</g>
<g>
<g clip-path="url(#cp11)">
<path d="M150.0,220.8 L149.0,220.8 L149.0,208.5 L149.0,208.5 L149.1,208.7 L149.1,208.8 L149.2,209.0 L149.3,209.0 L149.5,209.0 L149.9,208.8 L150.3,208.5 L151.0,208.0 L151.8,207.5 L152.7,206.8 L153.7,206.1 L154.7,205.1 L155.7,203.9 L156.7,202.5 L157.7,200.7 L158.6,198.6 L159.5,196.1 L160.3,193.3 L161.2,190.3 L162.1,187.2 L162.9,184.0 L163.7,180.7 L164.5,177.5 L165.2,174.2 L165.9,170.6 L166.5,166.9 L167.1,163.2 L167.7,159.5 L168.3,156.1 L168.8,153.0 L169.3,150.4 L169.7,148.3 L170.1,146.4 L170.4,144.9 L170.7,143.6 L170.9,142.5 L171.1,141.5 L171.4,140.6 L171.6,139.8 L171.8,138.9 L172.1,138.2 L172.2,137.6 L172.4,137.1 L172.6,136.8 L172.8,136.5 L173.0,136.3 L173.2,136.3 L173.3,136.3 L173.5,136.5 L173.7,136.8 L173.9,137.1 L174.1,137.6 L174.3,138.2 L174.5,138.9 L174.7,139.8 L175.0,140.6 L175.2,141.5 L175.5,142.5 L175.7,143.6 L176.0,144.9 L176.3,146.4 L176.7,148.3 L177.0,150.4 L177.4,153.0 L177.9,156.1 L178.3,159.5 L178.8,163.2 L179.3,166.9 L179.8,170.6 L180.4,174.2 L180.9,177.5 L181.4,180.6 L182.0,183.7 L182.5,186.7 L183.0,189.6 L183.6,192.5 L184.2,195.3 L184.9,198.0 L185.7,200.7 L186.7,203.5 L187.8,206.3 L189.1,209.1 L190.4,211.9 L191.7,214.4 L192.8,216.7 L193.8,218.6 L194.4,220.1 L194.4,220.8 Z" fill="#c0c0c0"/>
<path d="M150.0,220.8 150.6,220.8 151.2,220.8 151.8,220.8 152.4,220.8 153.1,220.8 153.7,220.8 154.3,220.8 154.9,220.8 155.5,220.8 156.1,220.8 156.7,220.8 157.3,220.8 157.9,220.8 158.6,220.8 159.2,220.8 159.8,220.8 160.4,220.8 161.0,220.8 161.6,220.8 162.2,220.8 162.8,220.8 163.5,220.8 164.1,220.8 164.7,220.8 165.3,220.8 165.9,220.8 166.5,220.8 167.1,220.8 167.7,220.8 168.3,220.8 169.0,220.8 169.6,220.8 170.2,220.8 170.8,220.8 171.4,220.8 172.0,220.8 172.6,220.8 173.2,220.8 173.8,220.8 174.5,220.8 175.1,220.8 175.7,220.8 176.3,220.8 176.9,220.8 177.5,220.8 178.1,220.8 178.7,220.8 179.3,220.8 180.0,220.8 180.6,220.8 181.2,220.8 181.8,220.8 182.4,220.8 183.0,220.8 183.6,220.8 184.2,220.8 184.9,220.8 185.5,220.8 186.1,220.8 186.7,220.8 187.3,220.8 187.9,220.8 188.5,220.8 189.1,220.8 189.7,220.8 190.4,220.8 191.0,220.8 191.6,220.7 192.2,220.7 192.8,220.5 193.4,220.3 194.0,220.0 194.6,219.5 195.2,218.7 195.9,217.6 196.5,216.0 197.1,213.7 197.7,210.8 198.3,207.0 198.9,202.3 199.5,196.7 200.1,190.3 200.7,183.1 201.4,175.5 202.0,167.8 202.6,160.2 203.2,153.1 203.8,147.0 204.4,142.0 205.0,138.4 205.6,136.1 206.3,135.3 206.5,135.2 206.9,135.4 207.5,136.9 208.1,139.6 208.7,143.6 209.3,148.7 209.9,154.7 210.5,161.2 211.1,168.1 211.8,175.1 212.4,181.8 213.0,188.2 213.6,194.1 214.2,199.3 214.8,203.8 215.4,207.7 216.0,210.8 216.6,213.4 217.3,215.4 217.9,216.9 218.5,218.1 219.1,218.9 219.7,219.5 220.3,220.0 220.9,220.3 221.5,220.5 222.1,220.6 222.8,220.7 223.4,220.7 224.0,220.8 224.6,220.8 225.2,220.8 225.8,220.8 226.4,220.8 227.0,220.8 227.7,220.8 228.3,220.8 228.9,220.8 229.5,220.8 230.1,220.8 230.7,220.8 231.3,220.8 231.9,220.8 232.5,220.8 233.2,220.8 233.8,220.8 234.4,220.8 235.0,220.8 235.6,220.8" fill="none" stroke="#ff8020" stroke-width="1.25" stroke-linejoin="round"/>
<path d="M185.2,220.6 185.6,220.4 186.3,220.2 187.0,219.9 187.8,219.6 188.7,219.3 189.5,219.0 190.3,218.6 191.0,218.2 191.6,217.9 192.1,217.7 192.5,217.5 192.9,217.2 193.4,216.9 193.8,216.3 194.3,215.5 194.9,214.4 195.5,212.9 196.2,211.1 196.9,209.2 197.7,207.0 198.4,204.6 199.2,202.1 199.9,199.6 200.7,196.9 201.4,194.0 202.2,190.8 202.9,187.4 203.6,183.8 204.4,180.4 205.1,177.1 205.8,174.2 206.5,171.7 207.1,169.8 207.8,168.2 208.4,166.9 209.0,165.8 209.6,164.9 210.2,164.0 210.8,163.1 211.3,162.1 211.9,161.0 212.4,160.1 212.9,159.3 213.4,158.4 213.9,157.6 214.3,156.6 214.8,155.5 215.2,154.3 215.6,152.8 216.0,151.1 216.4,149.3 216.8,147.3 217.1,145.4 217.5,143.7 217.8,142.1 218.1,140.7 218.4,139.6 218.6,138.6 218.8,137.7 219.0,136.9 219.2,136.3 219.5,136.0 219.7,135.8 220.0,135.9 220.4,136.2 220.9,136.7 221.4,137.4 221.9,138.3 222.4,139.4 222.9,140.8 223.4,142.6 223.9,144.6 224.4,147.1 224.9,150.1 225.4,153.4 225.9,157.0 226.3,160.8 226.8,164.5 227.3,168.2 227.8,171.7 228.3,175.2 228.8,178.8 229.3,182.4 229.8,186.0 230.3,189.5 230.8,192.9 231.2,196.0 231.7,198.9 232.1,201.4 232.5,203.8 232.9,206.0 233.3,208.1 233.6,209.9 234.0,211.6 234.3,213.1 234.6,214.4 234.8,215.4 235.1,216.2 235.3,216.8 235.4,217.3 235.6,217.6 235.7,217.8 235.8,218.0 235.9,218.2" fill="none" stroke="#10a030" stroke-width="1.25" stroke-linejoin="round"/>
<path d="M150.0,220.8 150.6,220.8 151.2,220.8 151.8,220.8 152.4,220.8 153.1,220.8 153.7,220.8 154.3,220.8 154.9,220.8 155.5,220.8 156.1,220.8 156.7,220.8 157.3,220.8 157.9,220.8 158.6,220.8 159.2,220.8 159.8,220.8 160.4,220.8 161.0,220.8 161.6,220.8 162.2,220.8 162.8,220.8 163.5,220.8 164.1,220.8 164.7,220.8 165.3,220.8 165.9,220.8 166.5,220.8 167.1,220.8 167.7,220.8 168.3,220.8 169.0,220.8 169.6,220.8 170.2,220.8 170.8,220.8 171.4,220.8 172.0,220.7 172.6,220.6 173.2,220.5 173.8,220.4 174.5,220.1 175.1,219.7 175.7,219.0 176.3,218.1 176.9,216.9 177.5,215.2 178.1,213.0 178.7,210.2 179.3,206.7 180.0,202.5 180.6,197.5 181.2,192.0 181.8,185.8 182.4,179.3 183.0,172.5 183.6,165.7 184.2,159.2 184.9,153.2 185.5,147.8 186.1,143.3 186.7,139.8 187.3,137.4 187.9,135.9 188.5,135.3 188.8,135.2 189.1,135.2 189.7,135.6 190.4,136.6 191.0,138.4 191.6,141.4 192.2,145.4 192.8,150.4 193.4,156.4 194.0,163.1 194.6,170.3 195.2,177.7 195.9,184.9 196.5,191.7 197.1,197.9 197.7,203.3 198.3,207.9 198.9,211.6 199.5,214.4 200.1,216.5 200.7,218.1 201.4,219.1 202.0,219.8 202.6,220.2 203.2,220.5 203.8,220.6 204.4,220.7 205.0,220.8 205.6,220.8 206.3,220.8 206.9,220.8 207.5,220.8 208.1,220.8 208.7,220.8 209.3,220.8 209.9,220.8 210.5,220.8 211.1,220.8 211.8,220.8 212.4,220.8 213.0,220.8 213.6,220.8 214.2,220.8 214.8,220.8 215.4,220.8 216.0,220.8 216.6,220.8 217.3,220.8 217.9,220.8 218.5,220.8 219.1,220.8 219.7,220.8 220.3,220.8 220.9,220.8 221.5,220.8 222.1,220.8 222.8,220.8 223.4,220.8 224.0,220.8 224.6,220.8 225.2,220.8 225.8,220.8 226.4,220.8 227.0,220.8 227.7,220.8 228.3,220.8 228.9,220.8 229.5,220.8 230.1,220.8 230.7,220.8 231.3,220.8 231.9,220.8 232.5,220.8 233.2,220.8 233.8,220.8 234.4,220.8 235.0,220.8 235.6,220.8" fill="none" stroke="#ff2020" stroke-width="1.25" stroke-linejoin="round"/>
<path d="M169.7,220.6 170.3,220.2 171.1,219.8 172.0,219.3 173.1,218.8 174.2,218.2 175.3,217.6 176.4,216.9 177.4,216.3 178.4,215.6 179.4,215.0 180.3,214.3 181.3,213.5 182.3,212.8 183.2,212.0 184.2,211.3 185.2,210.5 186.2,209.7 187.2,208.9 188.2,208.1 189.2,207.3 190.2,206.4 191.1,205.6 192.1,204.6 192.9,203.7 193.7,202.7 194.4,201.7 195.1,200.6 195.7,199.5 196.4,198.4 197.1,197.3 197.8,196.1 198.7,195.0 199.8,193.8 201.0,192.7 202.3,191.5 203.6,190.3 204.9,189.0 206.2,187.8 207.4,186.6 208.4,185.3 209.4,184.1 210.2,182.9 211.0,181.8 211.7,180.6 212.4,179.4 213.0,178.0 213.6,176.4 214.2,174.6 214.8,172.6 215.4,170.2 215.8,167.6 216.3,165.0 216.8,162.2 217.2,159.5 217.7,156.8 218.1,154.3 218.6,151.7 219.0,149.0 219.5,146.2 219.9,143.4 220.3,140.9 220.7,138.7 221.2,137.0 221.6,135.9 222.0,135.5 222.4,135.5 222.9,136.1 223.3,136.9 223.7,138.1 224.1,139.5 224.5,141.1 224.9,142.7 225.3,144.4 225.6,146.2 225.9,148.2 226.2,150.4 226.6,152.8 226.9,155.6 227.3,158.6 227.8,162.1 228.3,166.1 228.9,170.9 229.6,176.1 230.2,181.5 230.9,187.0 231.5,192.2 232.1,196.8 232.6,200.8 233.1,204.1 233.6,207.1 234.0,209.7 234.4,211.9 234.8,213.9 235.1,215.6 235.3,217.0 235.5,218.2" fill="none" stroke="#2828ff" stroke-width="1.25" stroke-linejoin="round"/>
</g>
<rect x="150.00" y="135.20" width="85.60" height="85.60" fill="none" stroke="#222" stroke-width="1.1"/>
<line x1="150.00" y1="135.20" x2="150.00" y2="220.80" stroke="#555" stroke-width="1.4"/>
<line x1="148.00" y1="220.80" x2="150.00" y2="220.80" stroke="#444" stroke-width="0.6"/>
<text x="147.70" y="222.60" font-size="5" text-anchor="end" fill="#222" font-weight="bold" textLength="2.2" lengthAdjust="spacingAndGlyphs" stroke="#222" stroke-width="0.12">0</text>
<line x1="148.00" y1="199.40" x2="150.00" y2="199.40" stroke="#444" stroke-width="0.6"/>
<text x="147.70" y="201.20" font-size="5" text-anchor="end" fill="#222" font-weight="bold" textLength="4.4" lengthAdjust="spacingAndGlyphs" stroke="#222" stroke-width="0.12">25</text>
<line x1="148.00" y1="178.00" x2="150.00" y2="178.00" stroke="#444" stroke-width="0.6"/>
<text x="147.70" y="179.80" font-size="5" text-anchor="end" fill="#222" font-weight="bold" textLength="4.4" lengthAdjust="spacingAndGlyphs" stroke="#222" stroke-width="0.12">50</text>
<line x1="148.00" y1="156.60" x2="150.00" y2="156.60" stroke="#444" stroke-width="0.6"/>
<text x="147.70" y="158.40" font-size="5" text-anchor="end" fill="#222" font-weight="bold" textLength="4.4" lengthAdjust="spacingAndGlyphs" stroke="#222" stroke-width="0.12">75</text>
<line x1="148.00" y1="135.20" x2="150.00" y2="135.20" stroke="#444" stroke-width="0.6"/>
<text x="147.70" y="137.00" font-size="5" text-anchor="end" fill="#222" font-weight="bold" textLength="6.6" lengthAdjust="spacingAndGlyphs" stroke="#222" stroke-width="0.12">100</text>
<line x1="150.00" y1="220.80" x2="150.00" y2="222.80" stroke="#333" stroke-width="0.7"/>
<line x1="158.50" y1="220.80" x2="158.50" y2="222.00" stroke="#555" stroke-width="0.4"/>
<line x1="163.48" y1="220.80" x2="163.48" y2="222.00" stroke="#555" stroke-width="0.4"/>
<line x1="167.01" y1="220.80" x2="167.01" y2="222.00" stroke="#555" stroke-width="0.4"/>
<line x1="169.75" y1="220.80" x2="169.75" y2="222.00" stroke="#555" stroke-width="0.4"/>
<line x1="171.98" y1="220.80" x2="171.98" y2="222.00" stroke="#555" stroke-width="0.4"/>
<line x1="173.87" y1="220.80" x2="173.87" y2="222.00" stroke="#555" stroke-width="0.4"/>
<line x1="175.51" y1="220.80" x2="175.51" y2="222.00" stroke="#555" stroke-width="0.4"/>
<line x1="176.96" y1="220.80" x2="176.96" y2="222.00" stroke="#555" stroke-width="0.4"/>
<text x="149.80" y="230.10" font-size="4.6" text-anchor="middle" fill="#222" font-weight="bold" textLength="6" lengthAdjust="spacingAndGlyphs" stroke="#222" stroke-width="0.12">10<tspan font-size="3" dy="-2.4">2</tspan></text>
<line x1="178.25" y1="220.80" x2="178.25" y2="222.80" stroke="#333" stroke-width="0.7"/>
<line x1="186.76" y1="220.80" x2="186.76" y2="222.00" stroke="#555" stroke-width="0.4"/>
<line x1="191.73" y1="220.80" x2="191.73" y2="222.00" stroke="#555" stroke-width="0.4"/>
<line x1="195.26" y1="220.80" x2="195.26" y2="222.00" stroke="#555" stroke-width="0.4"/>
<line x1="198.00" y1="220.80" x2="198.00" y2="222.00" stroke="#555" stroke-width="0.4"/>
<line x1="200.23" y1="220.80" x2="200.23" y2="222.00" stroke="#555" stroke-width="0.4"/>
<line x1="202.13" y1="220.80" x2="202.13" y2="222.00" stroke="#555" stroke-width="0.4"/>
<line x1="203.76" y1="220.80" x2="203.76" y2="222.00" stroke="#555" stroke-width="0.4"/>
<line x1="205.21" y1="220.80" x2="205.21" y2="222.00" stroke="#555" stroke-width="0.4"/>
<text x="178.05" y="230.10" font-size="4.6" text-anchor="middle" fill="#222" font-weight="bold" textLength="6" lengthAdjust="spacingAndGlyphs" stroke="#222" stroke-width="0.12">10<tspan font-size="3" dy="-2.4">3</tspan></text>
<line x1="206.50" y1="220.80" x2="206.50" y2="222.80" stroke="#333" stroke-width="0.7"/>
<line x1="215.01" y1="220.80" x2="215.01" y2="222.00" stroke="#555" stroke-width="0.4"/>
<line x1="219.98" y1="220.80" x2="219.98" y2="222.00" stroke="#555" stroke-width="0.4"/>
<line x1="223.51" y1="220.80" x2="223.51" y2="222.00" stroke="#555" stroke-width="0.4"/>
<line x1="226.25" y1="220.80" x2="226.25" y2="222.00" stroke="#555" stroke-width="0.4"/>
<line x1="228.49" y1="220.80" x2="228.49" y2="222.00" stroke="#555" stroke-width="0.4"/>
<line x1="230.38" y1="220.80" x2="230.38" y2="222.00" stroke="#555" stroke-width="0.4"/>
<line x1="232.01" y1="220.80" x2="232.01" y2="222.00" stroke="#555" stroke-width="0.4"/>
<line x1="233.46" y1="220.80" x2="233.46" y2="222.00" stroke="#555" stroke-width="0.4"/>
<text x="206.30" y="230.10" font-size="4.6" text-anchor="middle" fill="#222" font-weight="bold" textLength="6" lengthAdjust="spacingAndGlyphs" stroke="#222" stroke-width="0.12">10<tspan font-size="3" dy="-2.4">4</tspan></text>
<line x1="234.75" y1="220.80" x2="234.75" y2="222.80" stroke="#333" stroke-width="0.7"/>
<text x="192.80" y="235.30" font-size="4.3" text-anchor="middle" fill="#222" stroke="#222" stroke-width="0.12" font-weight="bold">PE-Cy7-A</text>
<text transform="translate(138.40,178.00) rotate(-90)" font-size="4.9" text-anchor="middle" fill="#222" stroke="#222" stroke-width="0.15" font-weight="bold">Count</text>
</g>
<g>
<g clip-path="url(#cp21)">
<path d="M255.0,220.8 L260.8,220.8 L260.8,218.2 L261.0,217.6 L261.3,217.0 L261.6,216.3 L262.0,215.5 L262.4,214.5 L262.8,213.3 L263.2,212.0 L263.7,210.4 L264.1,208.6 L264.6,206.4 L265.1,204.0 L265.6,201.5 L266.1,198.8 L266.6,196.2 L267.1,193.6 L267.5,191.1 L268.0,188.6 L268.3,186.2 L268.7,183.8 L269.1,181.4 L269.4,179.0 L269.7,176.5 L270.1,174.1 L270.5,171.7 L270.8,169.2 L271.2,166.7 L271.6,164.1 L272.0,161.5 L272.4,159.0 L272.7,156.6 L273.1,154.4 L273.4,152.4 L273.6,150.5 L273.8,148.7 L274.0,147.1 L274.2,145.6 L274.4,144.2 L274.6,143.0 L274.7,141.8 L274.9,140.7 L275.1,139.8 L275.2,138.9 L275.4,138.2 L275.6,137.5 L275.7,137.0 L275.9,136.6 L276.1,136.4 L276.3,136.3 L276.4,136.4 L276.6,136.6 L276.8,137.0 L277.0,137.5 L277.2,138.2 L277.4,138.9 L277.6,139.8 L277.8,140.7 L278.1,141.8 L278.3,143.0 L278.6,144.2 L278.9,145.6 L279.2,147.1 L279.5,148.7 L279.8,150.5 L280.1,152.4 L280.5,154.4 L280.8,156.6 L281.2,159.0 L281.5,161.5 L281.9,164.1 L282.3,166.7 L282.7,169.2 L283.0,171.7 L283.4,174.2 L283.7,176.6 L284.0,179.1 L284.3,181.6 L284.6,184.1 L285.0,186.5 L285.4,188.8 L285.9,191.1 L286.5,193.2 L287.2,195.3 L287.9,197.4 L288.6,199.4 L289.4,201.3 L290.2,203.2 L290.9,204.9 L291.7,206.5 L292.5,208.1 L293.4,209.5 L294.3,210.9 L295.1,212.1 L296.0,213.3 L296.9,214.3 L297.7,215.3 L298.5,216.2 L299.3,217.0 L300.1,217.7 L300.8,218.2 L301.6,218.7 L302.3,219.1 L303.0,219.5 L303.7,219.8 L304.3,220.1 L304.9,220.3 L305.5,220.5 L306.1,220.6 L306.6,220.6 L307.1,220.6 L307.5,220.6 L307.9,220.6 L308.2,220.7 L308.2,220.8 Z" fill="#c0c0c0"/>
<path d="M255.0,220.8 255.6,220.8 256.2,220.8 256.8,220.8 257.4,220.8 258.1,220.8 258.7,220.8 259.3,220.8 259.9,220.8 260.5,220.8 261.1,220.8 261.7,220.8 262.3,220.8 263.0,220.8 263.6,220.8 264.2,220.8 264.8,220.8 265.4,220.8 266.0,220.8 266.6,220.8 267.2,220.8 267.9,220.8 268.5,220.8 269.1,220.8 269.7,220.8 270.3,220.7 270.9,220.7 271.5,220.7 272.1,220.6 272.8,220.6 273.4,220.5 274.0,220.3 274.6,220.2 275.2,219.9 275.8,219.7 276.4,219.3 277.0,218.8 277.6,218.3 278.3,217.5 278.9,216.6 279.5,215.5 280.1,214.2 280.7,212.6 281.3,210.7 281.9,208.5 282.5,205.9 283.2,203.0 283.8,199.7 284.4,196.0 285.0,192.0 285.6,187.6 286.2,182.9 286.8,177.9 287.4,172.8 288.1,167.6 288.7,162.3 289.3,157.2 289.9,152.3 290.5,147.8 291.1,143.8 291.7,140.4 292.3,137.8 293.0,136.0 293.6,135.2 293.7,135.2 294.2,135.7 294.8,137.0 295.4,138.9 296.0,141.3 296.6,144.1 297.2,147.2 297.9,150.6 298.5,154.2 299.1,157.8 299.7,161.6 300.3,165.4 300.9,169.2 301.5,172.9 302.1,176.5 302.7,180.1 303.4,183.5 304.0,186.7 304.6,189.8 305.2,192.7 305.8,195.5 306.4,198.0 307.0,200.4 307.6,202.6 308.3,204.6 308.9,206.4 309.5,208.1 310.1,209.6 310.7,211.0 311.3,212.2 311.9,213.3 312.5,214.3 313.2,215.2 313.8,215.9 314.4,216.6 315.0,217.2 315.6,217.7 316.2,218.2 316.8,218.6 317.4,218.9 318.1,219.2 318.7,219.5 319.3,219.7 319.9,219.9 320.5,220.0 321.1,220.1 321.7,220.3 322.3,220.3 322.9,220.4 323.6,220.5 324.2,220.5 324.8,220.6 325.4,220.6 326.0,220.7 326.6,220.7 327.2,220.7 327.8,220.7 328.5,220.7 329.1,220.8 329.7,220.8 330.3,220.8 330.9,220.8 331.5,220.8 332.1,220.8 332.7,220.8 333.4,220.8 334.0,220.8 334.6,220.8 335.2,220.8 335.8,220.8 336.4,220.8 337.0,220.8 337.6,220.8 338.3,220.8 338.9,220.8 339.5,220.8 340.1,220.8 340.7,220.8" fill="none" stroke="#ff8020" stroke-width="1.25" stroke-linejoin="round"/>
<path d="M255.0,220.8 255.6,220.8 256.2,220.8 256.8,220.8 257.4,220.8 258.1,220.8 258.7,220.8 259.3,220.8 259.9,220.8 260.5,220.8 261.1,220.8 261.7,220.8 262.3,220.8 263.0,220.8 263.6,220.8 264.2,220.8 264.8,220.8 265.4,220.8 266.0,220.8 266.6,220.8 267.2,220.8 267.9,220.8 268.5,220.8 269.1,220.8 269.7,220.8 270.3,220.8 270.9,220.8 271.5,220.8 272.1,220.7 272.8,220.7 273.4,220.7 274.0,220.6 274.6,220.5 275.2,220.4 275.8,220.3 276.4,220.1 277.0,219.9 277.6,219.6 278.3,219.2 278.9,218.8 279.5,218.2 280.1,217.5 280.7,216.6 281.3,215.6 281.9,214.3 282.5,212.8 283.2,211.1 283.8,209.1 284.4,206.8 285.0,204.1 285.6,201.2 286.2,198.0 286.8,194.4 287.4,190.6 288.1,186.5 288.7,182.2 289.3,177.7 289.9,173.1 290.5,168.5 291.1,163.8 291.7,159.3 292.3,155.0 293.0,150.9 293.6,147.1 294.2,143.8 294.8,141.0 295.4,138.7 296.0,136.9 296.6,135.8 297.2,135.3 297.5,135.2 297.9,135.4 298.5,136.4 299.1,138.1 299.7,140.4 300.3,143.0 300.9,145.9 301.5,149.2 302.1,152.6 302.7,156.2 303.4,159.8 304.0,163.6 304.6,167.3 305.2,171.0 305.8,174.6 306.4,178.1 307.0,181.6 307.6,184.8 308.3,188.0 308.9,191.0 309.5,193.8 310.1,196.4 310.7,198.8 311.3,201.1 311.9,203.2 312.5,205.1 313.2,206.9 313.8,208.5 314.4,210.0 315.0,211.3 315.6,212.5 316.2,213.5 316.8,214.5 317.4,215.3 318.1,216.1 318.7,216.7 319.3,217.3 319.9,217.8 320.5,218.2 321.1,218.6 321.7,218.9 322.3,219.2 322.9,219.5 323.6,219.7 324.2,219.9 324.8,220.0 325.4,220.1 326.0,220.3 326.6,220.3 327.2,220.4 327.8,220.5 328.5,220.5 329.1,220.6 329.7,220.6 330.3,220.7 330.9,220.7 331.5,220.7 332.1,220.7 332.7,220.7 333.4,220.8 334.0,220.8 334.6,220.8 335.2,220.8 335.8,220.8 336.4,220.8 337.0,220.8 337.6,220.8 338.3,220.8 338.9,220.8 339.5,220.8 340.1,220.8 340.7,220.8" fill="none" stroke="#10a030" stroke-width="1.25" stroke-linejoin="round"/>
<path d="M255.0,220.8 255.6,220.8 256.2,220.8 256.8,220.8 257.4,220.8 258.1,220.7 258.7,220.7 259.3,220.7 259.9,220.6 260.5,220.6 261.1,220.5 261.7,220.4 262.3,220.2 263.0,220.0 263.6,219.7 264.2,219.3 264.8,218.8 265.4,218.2 266.0,217.4 266.6,216.4 267.2,215.1 267.9,213.6 268.5,211.7 269.1,209.5 269.7,206.9 270.3,203.8 270.9,200.3 271.5,196.3 272.1,191.8 272.8,186.9 273.4,181.6 274.0,176.0 274.6,170.1 275.2,164.1 275.8,158.2 276.4,152.6 277.0,147.3 277.6,142.7 278.3,139.0 278.9,136.4 279.5,135.2 279.5,135.2 280.1,135.9 280.7,137.7 281.3,140.6 281.9,144.3 282.5,148.6 283.2,153.4 283.8,158.6 284.4,163.9 285.0,169.3 285.6,174.7 286.2,179.8 286.8,184.8 287.4,189.4 288.1,193.7 288.7,197.6 289.3,201.1 289.9,204.3 290.5,207.0 291.1,209.4 291.7,211.5 292.3,213.2 293.0,214.7 293.6,215.9 294.2,216.9 294.8,217.8 295.4,218.4 296.0,219.0 296.6,219.4 297.2,219.7 297.9,220.0 298.5,220.2 299.1,220.4 299.7,220.5 300.3,220.6 300.9,220.6 301.5,220.7 302.1,220.7 302.7,220.7 303.4,220.8 304.0,220.8 304.6,220.8 305.2,220.8 305.8,220.8 306.4,220.8 307.0,220.8 307.6,220.8 308.3,220.8 308.9,220.8 309.5,220.8 310.1,220.8 310.7,220.8 311.3,220.8 311.9,220.8 312.5,220.8 313.2,220.8 313.8,220.8 314.4,220.8 315.0,220.8 315.6,220.8 316.2,220.8 316.8,220.8 317.4,220.8 318.1,220.8 318.7,220.8 319.3,220.8 319.9,220.8 320.5,220.8 321.1,220.8 321.7,220.8 322.3,220.8 322.9,220.8 323.6,220.8 324.2,220.8 324.8,220.8 325.4,220.8 326.0,220.8 326.6,220.8 327.2,220.8 327.8,220.8 328.5,220.8 329.1,220.8 329.7,220.8 330.3,220.8 330.9,220.8 331.5,220.8 332.1,220.8 332.7,220.8 333.4,220.8 334.0,220.8 334.6,220.8 335.2,220.8 335.8,220.8 336.4,220.8 337.0,220.8 337.6,220.8 338.3,220.8 338.9,220.8 339.5,220.8 340.1,220.8 340.7,220.8" fill="none" stroke="#ff2020" stroke-width="1.25" stroke-linejoin="round"/>
<path d="M255.0,218.3 255.6,218.0 256.2,217.8 256.8,217.5 257.4,217.2 258.1,216.9 258.7,216.6 259.3,216.3 259.9,215.9 260.5,215.5 261.1,215.1 261.7,214.6 262.3,214.2 263.0,213.7 263.6,213.1 264.2,212.5 264.8,211.9 265.4,211.3 266.0,210.6 266.6,209.9 267.2,209.1 267.9,208.3 268.5,207.5 269.1,206.6 269.7,205.6 270.3,204.7 270.9,203.6 271.5,202.5 272.1,201.4 272.8,200.2 273.4,199.0 274.0,197.7 274.6,196.4 275.2,195.0 275.8,193.6 276.4,192.1 277.0,190.6 277.6,189.0 278.3,187.4 278.9,185.7 279.5,184.0 280.1,182.2 280.7,180.5 281.3,178.6 281.9,176.8 282.5,174.9 283.2,172.9 283.8,171.0 284.4,169.0 285.0,167.1 285.6,165.1 286.2,163.1 286.8,161.1 287.4,159.1 288.1,157.2 288.7,155.2 289.3,153.3 289.9,151.4 290.5,149.6 291.1,147.9 291.7,146.2 292.3,144.5 293.0,143.0 293.6,141.6 294.2,140.2 294.8,139.0 295.4,137.9 296.0,137.0 296.6,136.2 297.2,135.6 297.9,135.3 298.1,135.2 298.5,135.4 299.1,136.4 299.7,138.1 300.3,140.2 300.9,142.7 301.5,145.5 302.1,148.6 302.7,151.8 303.4,155.2 304.0,158.8 304.6,162.3 305.2,165.9 305.8,169.5 306.4,173.0 307.0,176.5 307.6,179.9 308.3,183.1 308.9,186.2 309.5,189.2 310.1,192.0 310.7,194.6 311.3,197.1 311.9,199.4 312.5,201.6 313.2,203.6 313.8,205.4 314.4,207.1 315.0,208.6 315.6,210.0 316.2,211.3 316.8,212.4 317.4,213.5 318.1,214.4 318.7,215.2 319.3,215.9 319.9,216.6 320.5,217.1 321.1,217.6 321.7,218.1 322.3,218.5 322.9,218.8 323.6,219.1 324.2,219.4 324.8,219.6 325.4,219.8 326.0,219.9 326.6,220.1 327.2,220.2 327.8,220.3 328.5,220.4 329.1,220.4 329.7,220.5 330.3,220.6 330.9,220.6 331.5,220.6 332.1,220.7 332.7,220.7 333.4,220.7 334.0,220.7 334.6,220.7 335.2,220.7 335.8,220.8 336.4,220.8 337.0,220.8 337.6,220.8 338.3,220.8 338.9,220.8 339.5,220.8 340.1,220.8 340.7,220.8" fill="none" stroke="#2828ff" stroke-width="1.25" stroke-linejoin="round"/>
</g>
<rect x="255.00" y="135.20" width="85.70" height="85.60" fill="none" stroke="#222" stroke-width="1.1"/>
<line x1="255.00" y1="135.20" x2="255.00" y2="220.80" stroke="#555" stroke-width="1.4"/>
<line x1="253.00" y1="220.80" x2="255.00" y2="220.80" stroke="#444" stroke-width="0.6"/>
<text x="252.70" y="222.60" font-size="5" text-anchor="end" fill="#222" font-weight="bold" textLength="2.2" lengthAdjust="spacingAndGlyphs" stroke="#222" stroke-width="0.12">0</text>
<line x1="253.00" y1="199.40" x2="255.00" y2="199.40" stroke="#444" stroke-width="0.6"/>
<text x="252.70" y="201.20" font-size="5" text-anchor="end" fill="#222" font-weight="bold" textLength="4.4" lengthAdjust="spacingAndGlyphs" stroke="#222" stroke-width="0.12">25</text>
<line x1="253.00" y1="178.00" x2="255.00" y2="178.00" stroke="#444" stroke-width="0.6"/>
<text x="252.70" y="179.80" font-size="5" text-anchor="end" fill="#222" font-weight="bold" textLength="4.4" lengthAdjust="spacingAndGlyphs" stroke="#222" stroke-width="0.12">50</text>
<line x1="253.00" y1="156.60" x2="255.00" y2="156.60" stroke="#444" stroke-width="0.6"/>
<text x="252.70" y="158.40" font-size="5" text-anchor="end" fill="#222" font-weight="bold" textLength="4.4" lengthAdjust="spacingAndGlyphs" stroke="#222" stroke-width="0.12">75</text>
<line x1="253.00" y1="135.20" x2="255.00" y2="135.20" stroke="#444" stroke-width="0.6"/>
<text x="252.70" y="137.00" font-size="5" text-anchor="end" fill="#222" font-weight="bold" textLength="6.6" lengthAdjust="spacingAndGlyphs" stroke="#222" stroke-width="0.12">100</text>
<line x1="255.00" y1="220.80" x2="255.00" y2="222.80" stroke="#333" stroke-width="0.7"/>
<line x1="263.51" y1="220.80" x2="263.51" y2="222.00" stroke="#555" stroke-width="0.4"/>
<line x1="268.49" y1="220.80" x2="268.49" y2="222.00" stroke="#555" stroke-width="0.4"/>
<line x1="272.03" y1="220.80" x2="272.03" y2="222.00" stroke="#555" stroke-width="0.4"/>
<line x1="274.77" y1="220.80" x2="274.77" y2="222.00" stroke="#555" stroke-width="0.4"/>
<line x1="277.01" y1="220.80" x2="277.01" y2="222.00" stroke="#555" stroke-width="0.4"/>
<line x1="278.90" y1="220.80" x2="278.90" y2="222.00" stroke="#555" stroke-width="0.4"/>
<line x1="280.54" y1="220.80" x2="280.54" y2="222.00" stroke="#555" stroke-width="0.4"/>
<line x1="281.99" y1="220.80" x2="281.99" y2="222.00" stroke="#555" stroke-width="0.4"/>
<text x="254.80" y="230.10" font-size="4.6" text-anchor="middle" fill="#222" font-weight="bold" textLength="6" lengthAdjust="spacingAndGlyphs" stroke="#222" stroke-width="0.12">10<tspan font-size="3" dy="-2.4">2</tspan></text>
<line x1="283.28" y1="220.80" x2="283.28" y2="222.80" stroke="#333" stroke-width="0.7"/>
<line x1="291.80" y1="220.80" x2="291.80" y2="222.00" stroke="#555" stroke-width="0.4"/>
<line x1="296.78" y1="220.80" x2="296.78" y2="222.00" stroke="#555" stroke-width="0.4"/>
<line x1="300.31" y1="220.80" x2="300.31" y2="222.00" stroke="#555" stroke-width="0.4"/>
<line x1="303.05" y1="220.80" x2="303.05" y2="222.00" stroke="#555" stroke-width="0.4"/>
<line x1="305.29" y1="220.80" x2="305.29" y2="222.00" stroke="#555" stroke-width="0.4"/>
<line x1="307.19" y1="220.80" x2="307.19" y2="222.00" stroke="#555" stroke-width="0.4"/>
<line x1="308.83" y1="220.80" x2="308.83" y2="222.00" stroke="#555" stroke-width="0.4"/>
<line x1="310.27" y1="220.80" x2="310.27" y2="222.00" stroke="#555" stroke-width="0.4"/>
<text x="283.08" y="230.10" font-size="4.6" text-anchor="middle" fill="#222" font-weight="bold" textLength="6" lengthAdjust="spacingAndGlyphs" stroke="#222" stroke-width="0.12">10<tspan font-size="3" dy="-2.4">3</tspan></text>
<line x1="311.57" y1="220.80" x2="311.57" y2="222.80" stroke="#333" stroke-width="0.7"/>
<line x1="320.08" y1="220.80" x2="320.08" y2="222.00" stroke="#555" stroke-width="0.4"/>
<line x1="325.06" y1="220.80" x2="325.06" y2="222.00" stroke="#555" stroke-width="0.4"/>
<line x1="328.60" y1="220.80" x2="328.60" y2="222.00" stroke="#555" stroke-width="0.4"/>
<line x1="331.34" y1="220.80" x2="331.34" y2="222.00" stroke="#555" stroke-width="0.4"/>
<line x1="333.58" y1="220.80" x2="333.58" y2="222.00" stroke="#555" stroke-width="0.4"/>
<line x1="335.47" y1="220.80" x2="335.47" y2="222.00" stroke="#555" stroke-width="0.4"/>
<line x1="337.11" y1="220.80" x2="337.11" y2="222.00" stroke="#555" stroke-width="0.4"/>
<line x1="338.56" y1="220.80" x2="338.56" y2="222.00" stroke="#555" stroke-width="0.4"/>
<text x="311.37" y="230.10" font-size="4.6" text-anchor="middle" fill="#222" font-weight="bold" textLength="6" lengthAdjust="spacingAndGlyphs" stroke="#222" stroke-width="0.12">10<tspan font-size="3" dy="-2.4">4</tspan></text>
<line x1="339.85" y1="220.80" x2="339.85" y2="222.80" stroke="#333" stroke-width="0.7"/>
<text x="297.85" y="235.30" font-size="4.3" text-anchor="middle" fill="#222" stroke="#222" stroke-width="0.12" font-weight="bold">PE-Cy7-A</text>
<text transform="translate(243.40,178.00) rotate(-90)" font-size="4.9" text-anchor="middle" fill="#222" stroke="#222" stroke-width="0.15" font-weight="bold">Count</text>
</g>
<g>
<g clip-path="url(#cp31)">
<path d="M361.0,220.8 L369.6,220.8 L369.6,218.2 L370.0,217.6 L370.5,217.0 L371.1,216.3 L371.8,215.5 L372.5,214.5 L373.2,213.3 L373.9,212.0 L374.5,210.4 L375.0,208.6 L375.5,206.4 L376.0,204.0 L376.5,201.5 L377.0,198.8 L377.5,196.2 L377.9,193.6 L378.4,191.1 L378.8,188.6 L379.1,186.2 L379.5,183.8 L379.9,181.4 L380.2,179.0 L380.6,176.5 L380.9,174.1 L381.3,171.7 L381.6,169.2 L382.0,166.7 L382.4,164.1 L382.8,161.6 L383.2,159.1 L383.5,156.7 L383.9,154.4 L384.2,152.4 L384.4,150.4 L384.6,148.7 L384.8,147.0 L385.0,145.4 L385.2,143.9 L385.4,142.6 L385.5,141.4 L385.7,140.4 L385.9,139.4 L386.1,138.6 L386.2,137.9 L386.4,137.3 L386.6,136.9 L386.7,136.5 L386.9,136.4 L387.1,136.3 L387.2,136.4 L387.4,136.5 L387.6,136.9 L387.7,137.3 L387.9,137.9 L388.1,138.6 L388.2,139.4 L388.4,140.4 L388.6,141.4 L388.8,142.6 L388.9,143.9 L389.1,145.4 L389.3,147.0 L389.5,148.7 L389.7,150.4 L390.0,152.4 L390.3,154.4 L390.6,156.7 L390.9,159.1 L391.2,161.6 L391.6,164.1 L392.0,166.7 L392.4,169.2 L392.9,171.7 L393.4,174.2 L393.9,176.6 L394.4,179.1 L395.0,181.6 L395.6,184.1 L396.2,186.5 L397.0,188.8 L397.7,191.1 L398.5,193.2 L399.4,195.4 L400.4,197.5 L401.4,199.5 L402.4,201.5 L403.4,203.3 L404.5,205.0 L405.4,206.5 L406.4,207.9 L407.4,209.1 L408.4,210.2 L409.4,211.1 L410.4,212.0 L411.4,212.8 L412.3,213.6 L413.2,214.3 L414.1,215.0 L414.9,215.6 L415.8,216.2 L416.6,216.7 L417.4,217.2 L418.0,217.6 L418.6,217.9 L419.0,218.2 L419.2,218.3 L419.1,218.4 L418.9,218.3 L418.7,218.3 L418.4,218.2 L418.2,218.1 L418.2,218.1 L418.4,218.2 L418.8,218.4 L419.5,218.6 L420.3,219.0 L421.2,219.3 L422.1,219.7 L423.0,220.0 L423.7,220.3 L424.2,220.5 L424.2,220.8 Z" fill="#c0c0c0"/>
<path d="M361.0,220.8 361.6,220.8 362.2,220.8 362.8,220.8 363.5,220.8 364.1,220.8 364.7,220.8 365.3,220.8 365.9,220.7 366.5,220.7 367.1,220.7 367.8,220.7 368.4,220.6 369.0,220.6 369.6,220.5 370.2,220.5 370.8,220.4 371.4,220.3 372.1,220.1 372.7,220.0 373.3,219.8 373.9,219.5 374.5,219.2 375.1,218.8 375.7,218.4 376.4,217.8 377.0,217.2 377.6,216.4 378.2,215.6 378.8,214.5 379.4,213.3 380.0,212.0 380.7,210.4 381.3,208.6 381.9,206.5 382.5,204.2 383.1,201.7 383.7,198.9 384.3,195.7 385.0,192.3 385.6,188.7 386.2,184.8 386.8,180.6 387.4,176.2 388.0,171.7 388.6,167.0 389.3,162.3 389.9,157.7 390.5,153.1 391.1,148.8 391.7,144.8 392.3,141.3 392.9,138.4 393.6,136.3 394.2,135.2 394.2,135.2 394.8,136.1 395.4,138.4 396.0,141.6 396.6,145.5 397.2,149.9 397.9,154.7 398.5,159.7 399.1,164.8 399.7,169.9 400.3,174.9 400.9,179.7 401.5,184.3 402.2,188.6 402.8,192.6 403.4,196.2 404.0,199.6 404.6,202.6 405.2,205.2 405.8,207.6 406.5,209.7 407.1,211.5 407.7,213.0 408.3,214.4 408.9,215.5 409.5,216.5 410.1,217.3 410.8,218.0 411.4,218.5 412.0,219.0 412.6,219.3 413.2,219.6 413.8,219.9 414.4,220.1 415.1,220.2 415.7,220.4 416.3,220.5 416.9,220.5 417.5,220.6 418.1,220.7 418.7,220.7 419.4,220.7 420.0,220.7 420.6,220.8 421.2,220.8 421.8,220.8 422.4,220.8 423.0,220.8 423.7,220.8 424.3,220.8 424.9,220.8 425.5,220.8 426.1,220.8 426.7,220.8 427.3,220.8 428.0,220.8 428.6,220.8 429.2,220.8 429.8,220.8 430.4,220.8 431.0,220.8 431.6,220.8 432.3,220.8 432.9,220.8 433.5,220.8 434.1,220.8 434.7,220.8 435.3,220.8 435.9,220.8 436.6,220.8 437.2,220.8 437.8,220.8 438.4,220.8 439.0,220.8 439.6,220.8 440.2,220.8 440.9,220.8 441.5,220.8 442.1,220.8 442.7,220.8 443.3,220.8 443.9,220.8 444.5,220.8 445.2,220.8 445.8,220.8 446.4,220.8 447.0,220.8" fill="none" stroke="#ff8020" stroke-width="1.25" stroke-linejoin="round"/>
<path d="M361.0,220.8 361.6,220.8 362.2,220.8 362.8,220.8 363.5,220.8 364.1,220.8 364.7,220.8 365.3,220.8 365.9,220.8 366.5,220.8 367.1,220.8 367.8,220.8 368.4,220.8 369.0,220.8 369.6,220.8 370.2,220.8 370.8,220.8 371.4,220.8 372.1,220.8 372.7,220.8 373.3,220.8 373.9,220.8 374.5,220.8 375.1,220.8 375.7,220.8 376.4,220.8 377.0,220.8 377.6,220.8 378.2,220.8 378.8,220.8 379.4,220.8 380.0,220.8 380.7,220.8 381.3,220.8 381.9,220.8 382.5,220.8 383.1,220.8 383.7,220.8 384.3,220.8 385.0,220.8 385.6,220.8 386.2,220.8 386.8,220.8 387.4,220.8 388.0,220.8 388.6,220.8 389.3,220.8 389.9,220.8 390.5,220.8 391.1,220.8 391.7,220.8 392.3,220.7 392.9,220.7 393.6,220.7 394.2,220.7 394.8,220.6 395.4,220.6 396.0,220.5 396.6,220.4 397.2,220.3 397.9,220.2 398.5,220.0 399.1,219.8 399.7,219.5 400.3,219.2 400.9,218.8 401.5,218.4 402.2,217.8 402.8,217.2 403.4,216.4 404.0,215.5 404.6,214.4 405.2,213.2 405.8,211.8 406.5,210.2 407.1,208.4 407.7,206.3 408.3,204.0 408.9,201.4 409.5,198.6 410.1,195.4 410.8,192.1 411.4,188.5 412.0,184.6 412.6,180.5 413.2,176.3 413.8,171.9 414.4,167.5 415.1,163.0 415.7,158.6 416.3,154.3 416.9,150.2 417.5,146.3 418.1,142.9 418.7,140.0 419.4,137.6 420.0,136.0 420.6,135.2 420.7,135.2 421.2,135.8 421.8,137.3 422.4,139.5 423.0,142.3 423.7,145.5 424.3,149.0 424.9,152.8 425.5,156.8 426.1,160.9 426.7,165.0 427.3,169.1 428.0,173.1 428.6,177.1 429.2,180.9 429.8,184.5 430.4,188.0 431.0,191.3 431.6,194.4 432.3,197.2 432.9,199.8 433.5,202.3 434.1,204.5 434.7,206.5 435.3,208.3 435.9,209.9 436.6,211.4 437.2,212.6 437.8,213.8 438.4,214.8 439.0,215.7 439.6,216.4 440.2,217.1 440.9,217.7 441.5,218.2 442.1,218.6 442.7,219.0 443.3,219.3 443.9,219.5 444.5,219.8 445.2,219.9 445.8,220.1 446.4,220.2 447.0,220.3" fill="none" stroke="#10a030" stroke-width="1.25" stroke-linejoin="round"/>
<path d="M361.0,220.8 361.6,220.8 362.2,220.8 362.8,220.8 363.5,220.8 364.1,220.8 364.7,220.8 365.3,220.8 365.9,220.8 366.5,220.8 367.1,220.8 367.8,220.7 368.4,220.7 369.0,220.7 369.6,220.7 370.2,220.6 370.8,220.6 371.4,220.5 372.1,220.4 372.7,220.3 373.3,220.2 373.9,220.0 374.5,219.8 375.1,219.5 375.7,219.2 376.4,218.8 377.0,218.3 377.6,217.7 378.2,217.0 378.8,216.2 379.4,215.2 380.0,214.0 380.7,212.7 381.3,211.1 381.9,209.3 382.5,207.3 383.1,205.0 383.7,202.3 384.3,199.4 385.0,196.2 385.6,192.7 386.2,188.8 386.8,184.7 387.4,180.3 388.0,175.7 388.6,170.9 389.3,165.9 389.9,161.0 390.5,156.1 391.1,151.4 391.7,147.0 392.3,143.0 392.9,139.6 393.6,137.0 394.2,135.4 394.4,135.2 394.8,135.7 395.4,137.6 396.0,140.6 396.6,144.4 397.2,148.8 397.9,153.6 398.5,158.7 399.1,163.8 399.7,169.0 400.3,174.1 400.9,179.0 401.5,183.7 402.2,188.1 402.8,192.2 403.4,195.9 404.0,199.3 404.6,202.4 405.2,205.1 405.8,207.5 406.5,209.7 407.1,211.5 407.7,213.1 408.3,214.4 408.9,215.6 409.5,216.5 410.1,217.3 410.8,218.0 411.4,218.6 412.0,219.0 412.6,219.4 413.2,219.7 413.8,219.9 414.4,220.1 415.1,220.3 415.7,220.4 416.3,220.5 416.9,220.6 417.5,220.6 418.1,220.7 418.7,220.7 419.4,220.7 420.0,220.7 420.6,220.8 421.2,220.8 421.8,220.8 422.4,220.8 423.0,220.8 423.7,220.8 424.3,220.8 424.9,220.8 425.5,220.8 426.1,220.8 426.7,220.8 427.3,220.8 428.0,220.8 428.6,220.8 429.2,220.8 429.8,220.8 430.4,220.8 431.0,220.8 431.6,220.8 432.3,220.8 432.9,220.8 433.5,220.8 434.1,220.8 434.7,220.8 435.3,220.8 435.9,220.8 436.6,220.8 437.2,220.8 437.8,220.8 438.4,220.8 439.0,220.8 439.6,220.8 440.2,220.8 440.9,220.8 441.5,220.8 442.1,220.8 442.7,220.8 443.3,220.8 443.9,220.8 444.5,220.8 445.2,220.8 445.8,220.8 446.4,220.8 447.0,220.8" fill="none" stroke="#ff2020" stroke-width="1.25" stroke-linejoin="round"/>
<path d="M361.0,220.8 361.6,220.8 362.2,220.8 362.8,220.8 363.5,220.8 364.1,220.8 364.7,220.8 365.3,220.8 365.9,220.8 366.5,220.8 367.1,220.8 367.8,220.8 368.4,220.8 369.0,220.8 369.6,220.8 370.2,220.8 370.8,220.8 371.4,220.8 372.1,220.8 372.7,220.8 373.3,220.8 373.9,220.8 374.5,220.8 375.1,220.8 375.7,220.8 376.4,220.8 377.0,220.8 377.6,220.8 378.2,220.8 378.8,220.8 379.4,220.8 380.0,220.8 380.7,220.8 381.3,220.8 381.9,220.8 382.5,220.8 383.1,220.8 383.7,220.7 384.3,220.7 385.0,220.7 385.6,220.7 386.2,220.7 386.8,220.7 387.4,220.6 388.0,220.6 388.6,220.6 389.3,220.6 389.9,220.5 390.5,220.5 391.1,220.4 391.7,220.4 392.3,220.3 392.9,220.2 393.6,220.1 394.2,220.0 394.8,219.9 395.4,219.8 396.0,219.7 396.6,219.5 397.2,219.3 397.9,219.1 398.5,218.9 399.1,218.6 399.7,218.4 400.3,218.0 400.9,217.7 401.5,217.3 402.2,216.9 402.8,216.4 403.4,215.9 404.0,215.3 404.6,214.6 405.2,213.9 405.8,213.2 406.5,212.3 407.1,211.4 407.7,210.4 408.3,209.4 408.9,208.2 409.5,207.0 410.1,205.7 410.8,204.2 411.4,202.7 412.0,201.1 412.6,199.3 413.2,197.5 413.8,195.5 414.4,193.5 415.1,191.4 415.7,189.1 416.3,186.8 416.9,184.3 417.5,181.8 418.1,179.2 418.7,176.5 419.4,173.7 420.0,171.0 420.6,168.1 421.2,165.3 421.8,162.4 422.4,159.5 423.0,156.7 423.7,154.0 424.3,151.3 424.9,148.7 425.5,146.2 426.1,143.9 426.7,141.7 427.3,139.8 428.0,138.2 428.6,136.8 429.2,135.8 429.8,135.2 430.0,135.2 430.4,135.4 431.0,136.0 431.6,137.0 432.3,138.2 432.9,139.6 433.5,141.2 434.1,143.0 434.7,145.0 435.3,147.1 435.9,149.3 436.6,151.5 437.2,153.9 437.8,156.3 438.4,158.8 439.0,161.3 439.6,163.8 440.2,166.3 440.9,168.8 441.5,171.2 442.1,173.7 442.7,176.1 443.3,178.4 443.9,180.7 444.5,183.0 445.2,185.2 445.8,187.3 446.4,189.3 447.0,191.3" fill="none" stroke="#2828ff" stroke-width="1.25" stroke-linejoin="round"/>
</g>
<rect x="361.00" y="135.20" width="86.00" height="85.60" fill="none" stroke="#222" stroke-width="1.1"/>
<line x1="361.00" y1="135.20" x2="361.00" y2="220.80" stroke="#555" stroke-width="1.4"/>
<line x1="359.00" y1="220.80" x2="361.00" y2="220.80" stroke="#444" stroke-width="0.6"/>
<text x="358.70" y="222.60" font-size="5" text-anchor="end" fill="#222" font-weight="bold" textLength="2.2" lengthAdjust="spacingAndGlyphs" stroke="#222" stroke-width="0.12">0</text>
<line x1="359.00" y1="199.40" x2="361.00" y2="199.40" stroke="#444" stroke-width="0.6"/>
<text x="358.70" y="201.20" font-size="5" text-anchor="end" fill="#222" font-weight="bold" textLength="4.4" lengthAdjust="spacingAndGlyphs" stroke="#222" stroke-width="0.12">25</text>
<line x1="359.00" y1="178.00" x2="361.00" y2="178.00" stroke="#444" stroke-width="0.6"/>
<text x="358.70" y="179.80" font-size="5" text-anchor="end" fill="#222" font-weight="bold" textLength="4.4" lengthAdjust="spacingAndGlyphs" stroke="#222" stroke-width="0.12">50</text>
<line x1="359.00" y1="156.60" x2="361.00" y2="156.60" stroke="#444" stroke-width="0.6"/>
<text x="358.70" y="158.40" font-size="5" text-anchor="end" fill="#222" font-weight="bold" textLength="4.4" lengthAdjust="spacingAndGlyphs" stroke="#222" stroke-width="0.12">75</text>
<line x1="359.00" y1="135.20" x2="361.00" y2="135.20" stroke="#444" stroke-width="0.6"/>
<text x="358.70" y="137.00" font-size="5" text-anchor="end" fill="#222" font-weight="bold" textLength="6.6" lengthAdjust="spacingAndGlyphs" stroke="#222" stroke-width="0.12">100</text>
<line x1="361.00" y1="220.80" x2="361.00" y2="222.80" stroke="#333" stroke-width="0.7"/>
<line x1="369.54" y1="220.80" x2="369.54" y2="222.00" stroke="#555" stroke-width="0.4"/>
<line x1="374.54" y1="220.80" x2="374.54" y2="222.00" stroke="#555" stroke-width="0.4"/>
<line x1="378.09" y1="220.80" x2="378.09" y2="222.00" stroke="#555" stroke-width="0.4"/>
<line x1="380.84" y1="220.80" x2="380.84" y2="222.00" stroke="#555" stroke-width="0.4"/>
<line x1="383.09" y1="220.80" x2="383.09" y2="222.00" stroke="#555" stroke-width="0.4"/>
<line x1="384.99" y1="220.80" x2="384.99" y2="222.00" stroke="#555" stroke-width="0.4"/>
<line x1="386.63" y1="220.80" x2="386.63" y2="222.00" stroke="#555" stroke-width="0.4"/>
<line x1="388.08" y1="220.80" x2="388.08" y2="222.00" stroke="#555" stroke-width="0.4"/>
<text x="360.80" y="230.10" font-size="4.6" text-anchor="middle" fill="#222" font-weight="bold" textLength="6" lengthAdjust="spacingAndGlyphs" stroke="#222" stroke-width="0.12">10<tspan font-size="3" dy="-2.4">2</tspan></text>
<line x1="389.38" y1="220.80" x2="389.38" y2="222.80" stroke="#333" stroke-width="0.7"/>
<line x1="397.93" y1="220.80" x2="397.93" y2="222.00" stroke="#555" stroke-width="0.4"/>
<line x1="402.92" y1="220.80" x2="402.92" y2="222.00" stroke="#555" stroke-width="0.4"/>
<line x1="406.47" y1="220.80" x2="406.47" y2="222.00" stroke="#555" stroke-width="0.4"/>
<line x1="409.22" y1="220.80" x2="409.22" y2="222.00" stroke="#555" stroke-width="0.4"/>
<line x1="411.47" y1="220.80" x2="411.47" y2="222.00" stroke="#555" stroke-width="0.4"/>
<line x1="413.37" y1="220.80" x2="413.37" y2="222.00" stroke="#555" stroke-width="0.4"/>
<line x1="415.02" y1="220.80" x2="415.02" y2="222.00" stroke="#555" stroke-width="0.4"/>
<line x1="416.47" y1="220.80" x2="416.47" y2="222.00" stroke="#555" stroke-width="0.4"/>
<text x="389.18" y="230.10" font-size="4.6" text-anchor="middle" fill="#222" font-weight="bold" textLength="6" lengthAdjust="spacingAndGlyphs" stroke="#222" stroke-width="0.12">10<tspan font-size="3" dy="-2.4">3</tspan></text>
<line x1="417.77" y1="220.80" x2="417.77" y2="222.80" stroke="#333" stroke-width="0.7"/>
<line x1="426.31" y1="220.80" x2="426.31" y2="222.00" stroke="#555" stroke-width="0.4"/>
<line x1="431.31" y1="220.80" x2="431.31" y2="222.00" stroke="#555" stroke-width="0.4"/>
<line x1="434.85" y1="220.80" x2="434.85" y2="222.00" stroke="#555" stroke-width="0.4"/>
<line x1="437.60" y1="220.80" x2="437.60" y2="222.00" stroke="#555" stroke-width="0.4"/>
<line x1="439.85" y1="220.80" x2="439.85" y2="222.00" stroke="#555" stroke-width="0.4"/>
<line x1="441.75" y1="220.80" x2="441.75" y2="222.00" stroke="#555" stroke-width="0.4"/>
<line x1="443.40" y1="220.80" x2="443.40" y2="222.00" stroke="#555" stroke-width="0.4"/>
<line x1="444.85" y1="220.80" x2="444.85" y2="222.00" stroke="#555" stroke-width="0.4"/>
<text x="417.57" y="230.10" font-size="4.6" text-anchor="middle" fill="#222" font-weight="bold" textLength="6" lengthAdjust="spacingAndGlyphs" stroke="#222" stroke-width="0.12">10<tspan font-size="3" dy="-2.4">4</tspan></text>
<line x1="446.15" y1="220.80" x2="446.15" y2="222.80" stroke="#333" stroke-width="0.7"/>
<text x="404.00" y="235.30" font-size="4.3" text-anchor="middle" fill="#222" stroke="#222" stroke-width="0.12" font-weight="bold">PE-Cy7-A</text>
<text transform="translate(349.40,178.00) rotate(-90)" font-size="4.9" text-anchor="middle" fill="#222" stroke="#222" stroke-width="0.15" font-weight="bold">Count</text>
</g>
<text x="86.50" y="21.2" font-size="9.9" text-anchor="middle" font-weight="bold" fill="#111" stroke="#111" stroke-width="0.22">ITGA2</text>
<text x="190.90" y="21.2" font-size="9.9" text-anchor="middle" font-weight="bold" fill="#111" stroke="#111" stroke-width="0.22">ITGAV</text>
<text x="298.00" y="21.2" font-size="9.9" text-anchor="middle" font-weight="bold" fill="#111" stroke="#111" stroke-width="0.22">EpCAM</text>
<text x="402.60" y="21.2" font-size="9.9" text-anchor="middle" font-weight="bold" fill="#111" stroke="#111" stroke-width="0.22">GPC1</text>
<text x="7.2" y="17.2" font-size="11.7" font-weight="bold" fill="#111" stroke="#111" stroke-width="0.22">(A)</text>
<text transform="translate(24.2,68.5) rotate(-90)" font-size="10.2" text-anchor="middle" font-weight="bold" fill="#111" stroke="#111" stroke-width="0.22">Cells</text>
<text transform="translate(24.2,179) rotate(-90)" font-size="10.2" text-anchor="middle" font-weight="bold" fill="#111" stroke="#111" stroke-width="0.22">EVs</text>
<line x1="459.0" y1="158.00" x2="473.3" y2="158.00" stroke="#a8a8a8" stroke-width="2.3"/>
<text x="478.2" y="161.20" font-size="9.9" font-weight="bold" fill="#a8a8a8" stroke="#a8a8a8" stroke-width="0.22">HPNE</text>
<line x1="459.0" y1="172.00" x2="473.3" y2="172.00" stroke="#ff1010" stroke-width="2.3"/>
<text x="478.2" y="175.20" font-size="9.9" font-weight="bold" fill="#ff1010" stroke="#ff1010" stroke-width="0.22">AsPC−1</text>
<line x1="459.0" y1="186.00" x2="473.3" y2="186.00" stroke="#ff6a10" stroke-width="2.3"/>
<text x="478.2" y="189.20" font-size="9.9" font-weight="bold" fill="#ff6a10" stroke="#ff6a10" stroke-width="0.22">BxPC−3</text>
<line x1="459.0" y1="200.00" x2="473.3" y2="200.00" stroke="#108a10" stroke-width="2.3"/>
<text x="478.2" y="203.20" font-size="9.9" font-weight="bold" fill="#108a10" stroke="#108a10" stroke-width="0.22">Mia PaCa−2</text>
<line x1="459.0" y1="214.00" x2="473.3" y2="214.00" stroke="#1818ff" stroke-width="2.3"/>
<text x="478.2" y="217.20" font-size="9.9" font-weight="bold" fill="#1818ff" stroke="#1818ff" stroke-width="0.22">PANC−1</text>
</g>
<g id="panelB">
<text x="7.2" y="258.8" font-size="11.7" font-weight="bold" fill="#111" stroke="#111" stroke-width="0.22">(B)</text>
<line x1="56.2" y1="287.3" x2="199.2" y2="287.3" stroke="#111" stroke-width="1.3"/>
<line x1="199.2" y1="287.3" x2="199.2" y2="429.8" stroke="#111" stroke-width="1.3"/>
<line x1="56.2" y1="287.3" x2="56.2" y2="381.2" stroke="#111" stroke-width="1.3"/>
<line x1="56.2" y1="390.4" x2="56.2" y2="429.8" stroke="#111" stroke-width="1.3"/>
<line x1="56.2" y1="429.8" x2="97.0" y2="429.8" stroke="#111" stroke-width="1.3"/>
<line x1="105.6" y1="429.8" x2="199.2" y2="429.8" stroke="#111" stroke-width="1.3"/>
<line x1="51" y1="287.3" x2="56.2" y2="287.3" stroke="#111" stroke-width="1.2"/>
<text x="50" y="290.3" font-size="8.6" text-anchor="end" font-weight="bold" fill="#111" stroke="#111" stroke-width="0.22">18000</text>
<line x1="51" y1="322.3" x2="56.2" y2="322.3" stroke="#111" stroke-width="1.2"/>
<text x="50" y="325.3" font-size="8.6" text-anchor="end" font-weight="bold" fill="#111" stroke="#111" stroke-width="0.22">12000</text>
<line x1="51" y1="357.7" x2="56.2" y2="357.7" stroke="#111" stroke-width="1.2"/>
<text x="50" y="360.7" font-size="8.6" text-anchor="end" font-weight="bold" fill="#111" stroke="#111" stroke-width="0.22">6000</text>
<line x1="51" y1="390.4" x2="56.2" y2="390.4" stroke="#111" stroke-width="1.2"/>
<text x="50" y="393.4" font-size="8.6" text-anchor="end" font-weight="bold" fill="#111" stroke="#111" stroke-width="0.22">2000</text>
<line x1="51" y1="429.8" x2="56.2" y2="429.8" stroke="#111" stroke-width="1.2"/>
<text x="50" y="432.8" font-size="8.6" text-anchor="end" font-weight="bold" fill="#111" stroke="#111" stroke-width="0.22">0</text>
<line x1="52" y1="381.2" x2="58" y2="381.2" stroke="#111" stroke-width="1.2"/>
<line x1="56.2" y1="429.8" x2="56.2" y2="434.5" stroke="#111" stroke-width="1.2"/>
<text x="56.2" y="444" font-size="8.6" text-anchor="middle" font-weight="bold" fill="#111" stroke="#111" stroke-width="0.22">0</text>
<line x1="97.0" y1="429.8" x2="97.0" y2="434.5" stroke="#111" stroke-width="1.2"/>
<text x="97.0" y="444" font-size="8.6" text-anchor="middle" font-weight="bold" fill="#111" stroke="#111" stroke-width="0.22">2000</text>
<line x1="129.1" y1="429.8" x2="129.1" y2="434.5" stroke="#111" stroke-width="1.2"/>
<text x="129.1" y="444" font-size="8.6" text-anchor="middle" font-weight="bold" fill="#111" stroke="#111" stroke-width="0.22">6000</text>
<line x1="163.5" y1="429.8" x2="163.5" y2="434.5" stroke="#111" stroke-width="1.2"/>
<text x="163.5" y="444" font-size="8.6" text-anchor="middle" font-weight="bold" fill="#111" stroke="#111" stroke-width="0.22">12000</text>
<line x1="199.2" y1="429.8" x2="199.2" y2="434.5" stroke="#111" stroke-width="1.2"/>
<text x="199.2" y="444" font-size="8.6" text-anchor="middle" font-weight="bold" fill="#111" stroke="#111" stroke-width="0.22">18000</text>
<line x1="97.0" y1="427" x2="97.0" y2="433" stroke="#111" stroke-width="1.2"/>
<line x1="105.6" y1="427" x2="105.6" y2="433" stroke="#111" stroke-width="1.2"/>
<line x1="106.0" y1="289.3" x2="106.0" y2="427.8" stroke="#333" stroke-width="1" stroke-dasharray="1.2,2.2"/>
<line x1="60" y1="381.2" x2="198.2" y2="381.2" stroke="#333" stroke-width="1" stroke-dasharray="1.2,2.2"/>
<text x="127.5" y="459.3" font-size="10.1" text-anchor="middle" font-weight="bold" fill="#111" stroke="#111" stroke-width="0.22">Cell signal (a.u.)</text>
<text transform="translate(19,358) rotate(-90)" font-size="10" text-anchor="middle" font-weight="bold" fill="#111" stroke="#111" stroke-width="0.22">EV signal (a.u.)</text>
<text x="84.3" y="343.5" font-size="10.5" font-weight="bold" fill="#111" stroke="#111" stroke-width="0.22">1</text>
<text x="151.5" y="343.8" font-size="10.5" font-weight="bold" fill="#111" stroke="#111" stroke-width="0.22">2</text>
<text x="151.0" y="406.3" font-size="10.5" font-weight="bold" fill="#111" stroke="#111" stroke-width="0.22">3</text>
<text x="83.8" y="407.5" font-size="10.5" font-weight="bold" fill="#111" stroke="#111" stroke-width="0.22">4</text>
<circle cx="75.8" cy="414.5" r="1.9" fill="#a0a0a0"/>
<circle cx="70.6" cy="422.6" r="1.9" fill="#a0a0a0"/>
<circle cx="59.2" cy="418.5" r="1.9" fill="#a0a0a0"/>
<circle cx="59.2" cy="423.5" r="1.9" fill="#a0a0a0"/>
<text x="77.0" y="412.4" font-size="6.6" font-weight="bold" fill="#a0a0a0" text-anchor="start" stroke="#a0a0a0" stroke-width="0.22">ITGA2</text>
<text x="74.5" y="421.4" font-size="6.6" font-weight="bold" fill="#a0a0a0" text-anchor="start" stroke="#a0a0a0" stroke-width="0.22">ITGAV</text>
<text x="57.0" y="416.9" font-size="6.6" font-weight="bold" fill="#a0a0a0" text-anchor="start" stroke="#a0a0a0" stroke-width="0.22">GPC1</text>
<text x="56.5" y="428.4" font-size="6.6" font-weight="bold" fill="#a0a0a0" text-anchor="start" stroke="#a0a0a0" stroke-width="0.22">EpCAM</text>
<path d="M59.50,288.50 L60.06,289.93 L61.59,290.02 L60.40,290.99 L60.79,292.48 L59.50,291.65 L58.21,292.48 L58.60,290.99 L57.41,290.02 L58.94,289.93 Z" fill="#2a2aff"/>
<path d="M59.70,308.20 L60.26,309.63 L61.79,309.72 L60.60,310.69 L60.99,312.18 L59.70,311.35 L58.41,312.18 L58.80,310.69 L57.61,309.72 L59.14,309.63 Z" fill="#2a2aff"/>
<path d="M68.40,310.20 L68.96,311.63 L70.49,311.72 L69.30,312.69 L69.69,314.18 L68.40,313.35 L67.11,314.18 L67.50,312.69 L66.31,311.72 L67.84,311.63 Z" fill="#2a2aff"/>
<path d="M59.00,397.20 L59.56,398.63 L61.09,398.72 L59.90,399.69 L60.29,401.18 L59.00,400.35 L57.71,401.18 L58.10,399.69 L56.91,398.72 L58.44,398.63 Z" fill="#2a2aff"/>
<text x="61.3" y="295.1" font-size="6.6" font-weight="bold" fill="#2a2aff" text-anchor="start" stroke="#2a2aff" stroke-width="0.22">GPC1</text>
<text x="59.1" y="306.7" font-size="6.6" font-weight="bold" fill="#2a2aff" text-anchor="start" stroke="#2a2aff" stroke-width="0.22">ITGA2</text>
<text x="72.0" y="316.4" font-size="6.6" font-weight="bold" fill="#2a2aff" text-anchor="start" stroke="#2a2aff" stroke-width="0.22">ITGAV</text>
<text x="58.4" y="396.3" font-size="6.6" font-weight="bold" fill="#2a2aff" text-anchor="start" stroke="#2a2aff" stroke-width="0.22">EpCAM</text>
<path d="M131.5,301.4 L133.7,303.6 L131.5,305.8 L129.3,303.6 Z" fill="#12902a"/>
<path d="M111.8,313.2 L114.0,315.4 L111.8,317.6 L109.6,315.4 Z" fill="#12902a"/>
<path d="M60.8,347.4 L63.0,349.6 L60.8,351.8 L58.6,349.6 Z" fill="#12902a"/>
<path d="M68.1,378.5 L70.3,380.7 L68.1,382.9 L65.9,380.7 Z" fill="#12902a"/>
<text x="134.3" y="299.1" font-size="6.6" font-weight="bold" fill="#12902a" text-anchor="middle" stroke="#12902a" stroke-width="0.22">ITGA2</text>
<text x="115.4" y="317.8" font-size="6.6" font-weight="bold" fill="#12902a" text-anchor="start" stroke="#12902a" stroke-width="0.22">ITGAV</text>
<text x="63.4" y="346.9" font-size="6.6" font-weight="bold" fill="#12902a" text-anchor="start" stroke="#12902a" stroke-width="0.22">GPC1</text>
<text x="70.0" y="385.9" font-size="6.6" font-weight="bold" fill="#12902a" text-anchor="start" stroke="#12902a" stroke-width="0.22">EpCAM</text>
<path d="M146.6,356.3 L148.9,360.3 L144.3,360.3 Z" fill="#ff7a1a"/>
<path d="M79.7,360.5 L82.0,364.5 L77.4,364.5 Z" fill="#ff7a1a"/>
<path d="M118.0,398.6 L120.3,402.6 L115.7,402.6 Z" fill="#ff7a1a"/>
<path d="M60.3,408.6 L62.6,412.6 L58.0,412.6 Z" fill="#ff7a1a"/>
<text x="151.6" y="360.6" font-size="6.6" font-weight="bold" fill="#ff7a1a" text-anchor="start" stroke="#ff7a1a" stroke-width="0.22">ITGA2</text>
<text x="82.0" y="360.1" font-size="6.6" font-weight="bold" fill="#ff7a1a" text-anchor="start" stroke="#ff7a1a" stroke-width="0.22">ITGAV</text>
<text x="120.4" y="399.4" font-size="6.6" font-weight="bold" fill="#ff7a1a" text-anchor="start" stroke="#ff7a1a" stroke-width="0.22">EpCAM</text>
<text x="64.2" y="403.1" font-size="6.6" font-weight="bold" fill="#ff7a1a" text-anchor="start" stroke="#ff7a1a" stroke-width="0.22">GPC1</text>
<rect x="106.4" y="372.0" width="4" height="4" fill="#ff1a1a"/>
<rect x="112.4" y="415.4" width="4" height="4" fill="#ff1a1a"/>
<rect x="176.6" y="418.4" width="4" height="4" fill="#ff1a1a"/>
<rect x="58.3" y="409.5" width="4" height="4" fill="#ff1a1a"/>
<text x="113.0" y="376.4" font-size="6.6" font-weight="bold" fill="#ff1a1a" text-anchor="start" stroke="#ff1a1a" stroke-width="0.22">ITGAV</text>
<text x="119.0" y="419.8" font-size="6.6" font-weight="bold" fill="#ff1a1a" text-anchor="start" stroke="#ff1a1a" stroke-width="0.22">ITGA2</text>
<text x="168.0" y="416.0" font-size="6.6" font-weight="bold" fill="#ff1a1a" text-anchor="start" stroke="#ff1a1a" stroke-width="0.22">EpCAM</text>
<text x="58.0" y="407.9" font-size="6.6" font-weight="bold" fill="#ff1a1a" text-anchor="start" stroke="#ff1a1a" stroke-width="0.22">GPC1</text>
<rect x="150.7" y="288.9" width="47.8" height="44.4" fill="none" stroke="#222" stroke-width="1.1" stroke-dasharray="2.3,1.3"/>
<circle cx="155.0" cy="293.7" r="1.9" fill="#a0a0a0"/>
<text x="159.4" y="296.1" font-size="6.5" font-weight="bold" fill="#a0a0a0" stroke="#a0a0a0" stroke-width="0.22">HPNE</text>
<rect x="153.0" y="300.2" width="4" height="4" fill="#ff1a1a"/>
<text x="159.4" y="304.6" font-size="6.5" font-weight="bold" fill="#ff1a1a" stroke="#ff1a1a" stroke-width="0.22">AsPC−1</text>
<path d="M155.0,308.4 L157.3,312.4 L152.7,312.4 Z" fill="#ff7a1a"/>
<text x="159.4" y="313.2" font-size="6.5" font-weight="bold" fill="#ff7a1a" stroke="#ff7a1a" stroke-width="0.22">BxPC−3</text>
<path d="M155.0,317.1 L157.2,319.3 L155.0,321.5 L152.8,319.3 Z" fill="#12902a"/>
<text x="159.4" y="321.7" font-size="6.5" font-weight="bold" fill="#12902a" stroke="#12902a" stroke-width="0.22">Mia PaCa−2</text>
<path d="M155.00,325.70 L155.56,327.13 L157.09,327.22 L155.90,328.19 L156.29,329.68 L155.00,328.85 L153.71,329.68 L154.10,328.19 L152.91,327.22 L154.44,327.13 Z" fill="#2a2aff"/>
<text x="159.4" y="330.3" font-size="6.5" font-weight="bold" fill="#2a2aff" stroke="#2a2aff" stroke-width="0.22">PANC−1</text>
</g>
<g id="panelC">
<text x="222.6" y="258.8" font-size="11.7" font-weight="bold" fill="#111" stroke="#111" stroke-width="0.22">(C)</text>
<rect x="261.60" y="285.30" width="29.73" height="22.93" fill="#ffcdcd"/>
<rect x="291.33" y="285.30" width="29.73" height="22.93" fill="#ff6e6e"/>
<rect x="321.05" y="285.30" width="29.73" height="22.93" fill="#ff9696"/>
<rect x="350.78" y="285.30" width="29.73" height="22.93" fill="#ffffff"/>
<rect x="261.60" y="308.23" width="29.73" height="22.93" fill="#ffdede"/>
<rect x="291.33" y="308.23" width="29.73" height="22.93" fill="#fff0f0"/>
<rect x="321.05" y="308.23" width="29.73" height="22.93" fill="#ffc8c8"/>
<rect x="350.78" y="308.23" width="29.73" height="22.93" fill="#fff5f5"/>
<rect x="261.60" y="331.15" width="29.73" height="22.93" fill="#ff1414"/>
<rect x="291.33" y="331.15" width="29.73" height="22.93" fill="#ffbebe"/>
<rect x="321.05" y="331.15" width="29.73" height="22.93" fill="#fff3f3"/>
<rect x="350.78" y="331.15" width="29.73" height="22.93" fill="#ffffff"/>
<rect x="261.60" y="354.08" width="29.73" height="22.93" fill="#fffdfd"/>
<rect x="291.33" y="354.08" width="29.73" height="22.93" fill="#fffcfc"/>
<rect x="321.05" y="354.08" width="29.73" height="22.93" fill="#fefefe"/>
<rect x="350.78" y="354.08" width="29.73" height="22.93" fill="#fdfdfd"/>
<line x1="261.60" y1="285.30" x2="261.60" y2="377.00" stroke="#111" stroke-width="1.1"/>
<line x1="261.60" y1="285.30" x2="380.50" y2="285.30" stroke="#111" stroke-width="1.1"/>
<line x1="291.33" y1="285.30" x2="291.33" y2="377.00" stroke="#111" stroke-width="1.1"/>
<line x1="261.60" y1="308.23" x2="380.50" y2="308.23" stroke="#111" stroke-width="1.1"/>
<line x1="321.05" y1="285.30" x2="321.05" y2="377.00" stroke="#111" stroke-width="1.1"/>
<line x1="261.60" y1="331.15" x2="380.50" y2="331.15" stroke="#111" stroke-width="1.1"/>
<line x1="350.78" y1="285.30" x2="350.78" y2="377.00" stroke="#111" stroke-width="1.1"/>
<line x1="261.60" y1="354.08" x2="380.50" y2="354.08" stroke="#111" stroke-width="1.1"/>
<line x1="380.50" y1="285.30" x2="380.50" y2="377.00" stroke="#111" stroke-width="1.1"/>
<line x1="261.60" y1="377.00" x2="380.50" y2="377.00" stroke="#111" stroke-width="1.1"/>
<line x1="258.00" y1="296.76" x2="261.60" y2="296.76" stroke="#111" stroke-width="1"/>
<text x="257.60" y="299.76" font-size="8.5" text-anchor="end" font-weight="bold" fill="#111" stroke="#111" stroke-width="0.22">ITGA2</text>
<line x1="258.00" y1="319.69" x2="261.60" y2="319.69" stroke="#111" stroke-width="1"/>
<text x="257.60" y="322.69" font-size="8.5" text-anchor="end" font-weight="bold" fill="#111" stroke="#111" stroke-width="0.22">ITGAV</text>
<line x1="258.00" y1="342.61" x2="261.60" y2="342.61" stroke="#111" stroke-width="1"/>
<text x="257.60" y="345.61" font-size="8.5" text-anchor="end" font-weight="bold" fill="#111" stroke="#111" stroke-width="0.22">EpCAM</text>
<line x1="258.00" y1="365.54" x2="261.60" y2="365.54" stroke="#111" stroke-width="1"/>
<text x="257.60" y="368.54" font-size="8.5" text-anchor="end" font-weight="bold" fill="#111" stroke="#111" stroke-width="0.22">GPC1</text>
<line x1="276.46" y1="377.00" x2="276.46" y2="380.60" stroke="#111" stroke-width="1"/>
<text transform="translate(279.66,387.30) rotate(-45)" font-size="8.0" text-anchor="end" font-weight="bold" fill="#111" stroke="#111" stroke-width="0.22">AsPC−1</text>
<line x1="306.19" y1="377.00" x2="306.19" y2="380.60" stroke="#111" stroke-width="1"/>
<text transform="translate(309.39,387.30) rotate(-45)" font-size="8.0" text-anchor="end" font-weight="bold" fill="#111" stroke="#111" stroke-width="0.22">BxPC−3</text>
<line x1="335.91" y1="377.00" x2="335.91" y2="380.60" stroke="#111" stroke-width="1"/>
<text transform="translate(339.11,387.30) rotate(-45)" font-size="8.0" text-anchor="end" font-weight="bold" fill="#111" stroke="#111" stroke-width="0.22">Mia-PaCa−2</text>
<line x1="365.64" y1="377.00" x2="365.64" y2="380.60" stroke="#111" stroke-width="1"/>
<text transform="translate(368.84,387.30) rotate(-45)" font-size="8.0" text-anchor="end" font-weight="bold" fill="#111" stroke="#111" stroke-width="0.22">PANC−1</text>
<text x="321.05" y="270.5" font-size="9.3" text-anchor="middle" font-weight="bold" fill="#111" stroke="#111" stroke-width="0.22">Cell</text>
<defs><linearGradient id="gCell" x1="0" x2="1" y1="0" y2="0"><stop offset="0" stop-color="#ffffff"/><stop offset="1" stop-color="#ff0000"/></linearGradient></defs>
<rect x="261.10" y="423.60" width="119.80" height="12.70" fill="url(#gCell)" stroke="#111" stroke-width="1.1"/>
<line x1="300.90" y1="423.60" x2="300.90" y2="426.20" stroke="#111" stroke-width="0.9"/>
<line x1="300.90" y1="433.70" x2="300.90" y2="436.30" stroke="#111" stroke-width="0.9"/>
<line x1="340.40" y1="423.60" x2="340.40" y2="426.20" stroke="#111" stroke-width="0.9"/>
<line x1="340.40" y1="433.70" x2="340.40" y2="436.30" stroke="#111" stroke-width="0.9"/>
<text x="263.50" y="448.60" font-size="8.4" text-anchor="middle" font-weight="bold" fill="#111" stroke="#111" stroke-width="0.22">0</text>
<text x="300.60" y="448.60" font-size="8.4" text-anchor="middle" font-weight="bold" fill="#111" stroke="#111" stroke-width="0.22">40</text>
<text x="339.90" y="448.60" font-size="8.4" text-anchor="middle" font-weight="bold" fill="#111" stroke="#111" stroke-width="0.22">80</text>
<text x="380.50" y="448.60" font-size="8.4" text-anchor="middle" font-weight="bold" fill="#111" stroke="#111" stroke-width="0.22">120</text>
<text x="321.30" y="458.20" font-size="7.4" text-anchor="middle" font-weight="bold" fill="#111" stroke="#111" stroke-width="0.22">Fold change</text>
<rect x="420.30" y="285.80" width="29.52" height="23.00" fill="#f4f4ff"/>
<rect x="449.82" y="285.80" width="29.52" height="23.00" fill="#b8b8ff"/>
<rect x="479.35" y="285.80" width="29.52" height="23.00" fill="#3030f8"/>
<rect x="508.88" y="285.80" width="29.52" height="23.00" fill="#4444f5"/>
<rect x="420.30" y="308.80" width="29.52" height="23.00" fill="#cfcfff"/>
<rect x="449.82" y="308.80" width="29.52" height="23.00" fill="#bcbcff"/>
<rect x="479.35" y="308.80" width="29.52" height="23.00" fill="#4a4af0"/>
<rect x="508.88" y="308.80" width="29.52" height="23.00" fill="#6060f5"/>
<rect x="420.30" y="331.80" width="29.52" height="23.00" fill="#ffffff"/>
<rect x="449.82" y="331.80" width="29.52" height="23.00" fill="#f0f0ff"/>
<rect x="479.35" y="331.80" width="29.52" height="23.00" fill="#e4e4fc"/>
<rect x="508.88" y="331.80" width="29.52" height="23.00" fill="#ececff"/>
<rect x="420.30" y="354.80" width="29.52" height="23.00" fill="#f6f6ff"/>
<rect x="449.82" y="354.80" width="29.52" height="23.00" fill="#f3f3ff"/>
<rect x="479.35" y="354.80" width="29.52" height="23.00" fill="#a0a0f5"/>
<rect x="508.88" y="354.80" width="29.52" height="23.00" fill="#1010f5"/>
<line x1="420.30" y1="285.80" x2="420.30" y2="377.80" stroke="#111" stroke-width="1.1"/>
<line x1="420.30" y1="285.80" x2="538.40" y2="285.80" stroke="#111" stroke-width="1.1"/>
<line x1="449.82" y1="285.80" x2="449.82" y2="377.80" stroke="#111" stroke-width="1.1"/>
<line x1="420.30" y1="308.80" x2="538.40" y2="308.80" stroke="#111" stroke-width="1.1"/>
<line x1="479.35" y1="285.80" x2="479.35" y2="377.80" stroke="#111" stroke-width="1.1"/>
<line x1="420.30" y1="331.80" x2="538.40" y2="331.80" stroke="#111" stroke-width="1.1"/>
<line x1="508.88" y1="285.80" x2="508.88" y2="377.80" stroke="#111" stroke-width="1.1"/>
<line x1="420.30" y1="354.80" x2="538.40" y2="354.80" stroke="#111" stroke-width="1.1"/>
<line x1="538.40" y1="285.80" x2="538.40" y2="377.80" stroke="#111" stroke-width="1.1"/>
<line x1="420.30" y1="377.80" x2="538.40" y2="377.80" stroke="#111" stroke-width="1.1"/>
<line x1="416.70" y1="297.30" x2="420.30" y2="297.30" stroke="#111" stroke-width="1"/>
<text x="416.30" y="300.30" font-size="8.5" text-anchor="end" font-weight="bold" fill="#111" stroke="#111" stroke-width="0.22">ITGA2</text>
<line x1="416.70" y1="320.30" x2="420.30" y2="320.30" stroke="#111" stroke-width="1"/>
<text x="416.30" y="323.30" font-size="8.5" text-anchor="end" font-weight="bold" fill="#111" stroke="#111" stroke-width="0.22">ITGAV</text>
<line x1="416.70" y1="343.30" x2="420.30" y2="343.30" stroke="#111" stroke-width="1"/>
<text x="416.30" y="346.30" font-size="8.5" text-anchor="end" font-weight="bold" fill="#111" stroke="#111" stroke-width="0.22">EpCAM</text>
<line x1="416.70" y1="366.30" x2="420.30" y2="366.30" stroke="#111" stroke-width="1"/>
<text x="416.30" y="369.30" font-size="8.5" text-anchor="end" font-weight="bold" fill="#111" stroke="#111" stroke-width="0.22">GPC1</text>
<line x1="435.06" y1="377.80" x2="435.06" y2="381.40" stroke="#111" stroke-width="1"/>
<text transform="translate(438.26,388.10) rotate(-45)" font-size="8.0" text-anchor="end" font-weight="bold" fill="#111" stroke="#111" stroke-width="0.22">AsPC−1</text>
<line x1="464.59" y1="377.80" x2="464.59" y2="381.40" stroke="#111" stroke-width="1"/>
<text transform="translate(467.79,388.10) rotate(-45)" font-size="8.0" text-anchor="end" font-weight="bold" fill="#111" stroke="#111" stroke-width="0.22">BxPC−3</text>
<line x1="494.11" y1="377.80" x2="494.11" y2="381.40" stroke="#111" stroke-width="1"/>
<text transform="translate(497.31,388.10) rotate(-45)" font-size="8.0" text-anchor="end" font-weight="bold" fill="#111" stroke="#111" stroke-width="0.22">Mia-PaCa−2</text>
<line x1="523.64" y1="377.80" x2="523.64" y2="381.40" stroke="#111" stroke-width="1"/>
<text transform="translate(526.84,388.10) rotate(-45)" font-size="8.0" text-anchor="end" font-weight="bold" fill="#111" stroke="#111" stroke-width="0.22">PANC−1</text>
<text x="479.35" y="270.5" font-size="9.3" text-anchor="middle" font-weight="bold" fill="#111" stroke="#111" stroke-width="0.22">EV</text>
<defs><linearGradient id="gEV" x1="0" x2="1" y1="0" y2="0"><stop offset="0" stop-color="#ffffff"/><stop offset="1" stop-color="#0000ff"/></linearGradient></defs>
<rect x="419.60" y="423.30" width="119.10" height="12.20" fill="url(#gEV)" stroke="#111" stroke-width="1.1"/>
<line x1="457.30" y1="423.30" x2="457.30" y2="425.90" stroke="#111" stroke-width="0.9"/>
<line x1="457.30" y1="432.90" x2="457.30" y2="435.50" stroke="#111" stroke-width="0.9"/>
<line x1="497.80" y1="423.30" x2="497.80" y2="425.90" stroke="#111" stroke-width="0.9"/>
<line x1="497.80" y1="432.90" x2="497.80" y2="435.50" stroke="#111" stroke-width="0.9"/>
<text x="421.50" y="445.70" font-size="8.4" text-anchor="middle" font-weight="bold" fill="#111" stroke="#111" stroke-width="0.22">0</text>
<text x="457.10" y="448.40" font-size="8.4" text-anchor="middle" font-weight="bold" fill="#111" stroke="#111" stroke-width="0.22">50</text>
<text x="497.50" y="448.40" font-size="8.4" text-anchor="middle" font-weight="bold" fill="#111" stroke="#111" stroke-width="0.22">100</text>
<text x="538.20" y="448.40" font-size="8.4" text-anchor="middle" font-weight="bold" fill="#111" stroke="#111" stroke-width="0.22">150</text>
<text x="478.70" y="458.90" font-size="7.4" text-anchor="middle" font-weight="bold" fill="#111" stroke="#111" stroke-width="0.22">Fold change</text>
</g>
</svg></body></html>
